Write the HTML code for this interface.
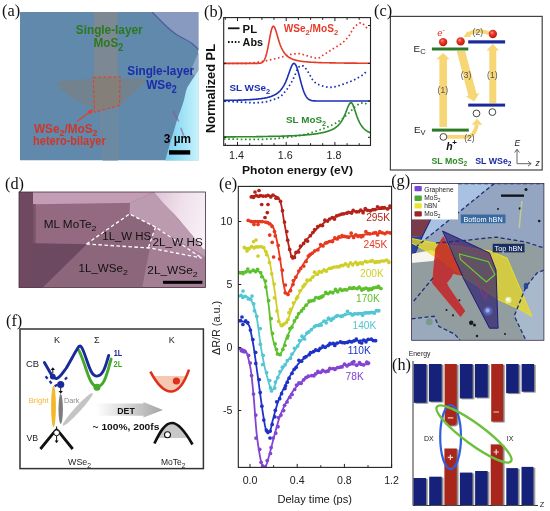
<!DOCTYPE html>
<html><head><meta charset="utf-8"><style>html,body{margin:0;padding:0;background:#fff;}svg{display:block;}</style></head>
<body><svg width="550" height="511" viewBox="0 0 550 511">
<rect width="550" height="511" fill="#fff"/>
<g id="pa">
<defs><clipPath id="ca"><rect x="20" y="12" width="178.5" height="148.5"/></clipPath><filter id="soft" x="-5%" y="-5%" width="110%" height="110%"><feGaussianBlur stdDeviation="0.7"/></filter><linearGradient id="gab" x1="0" y1="0" x2="1" y2="1"><stop offset="0" stop-color="#5f8cb1"/><stop offset="1" stop-color="#6a92b4"/></linearGradient><linearGradient id="gcy" x1="0" y1="0" x2="1" y2="0"><stop offset="0" stop-color="#78c8ea"/><stop offset="0.4" stop-color="#98e0f6"/><stop offset="1" stop-color="#dcf8fd"/></linearGradient></defs>
<g clip-path="url(#ca)">
<rect x="20" y="12" width="178.5" height="148.5" fill="#6089ab"/>
<g filter="url(#soft)">
<path d="M146,5 L152,12 C156,16 160,20 163,23 C167,27 172,32 178,35.5 C184,39 189,41 192,43.5 C195,46 197,48 199,50 L206,56 L206,5 Z" fill="#899ac0"/>
<path d="M152,12 C156,16 160,20 163,23 C167,27 172,32 178,35.5 C184,39 189,41 192,43.5 C195,46 197,48 199,50" fill="none" stroke="#4b5f9e" stroke-width="1.3"/>
<path d="M94,5 L117.5,5 L118,80 L118,167 L103,167 L100,108 L94,100 Z" fill="#7b8893"/>
<path d="M101,108 L117.5,105 L116.5,167 L104,167 Z" fill="#6b89a3"/>
<path d="M56.4,82.2 C62,80.5 67,80 72.7,79.7 L92.4,78.9 L147.5,78.5 C140,88 128,98 120.3,105.8 L92.4,106.7 C88,105.5 86,104.8 82.6,103.5 C79,102 76,100 72.7,97.7 C69,95 66,93.5 64.5,92 C61,89 58.5,85.5 56.4,82.2 Z" fill="#72828f"/>
<path d="M93.5,77.5 L119.5,77.2 L119.3,105 L94.6,112 Z" fill="#857f79"/>
<path d="M199,52 C196,58 193,64 191,72 L199,80 L206,80 L206,52 Z" fill="#8fa9c8"/>
<path d="M199,70 C196,74 194,77 192,80 C190,83 188,86 187,88 C185.5,92 185,96 184,100 C182,107 179,114 177,120 C175,127 173,134 171,140 C169,147 167,154 165,161 L163,167 L206,167 L206,66 Z" fill="url(#gcy)"/>
<path d="M172.4,111.5 C174,115 176,118 178,121.8 L179.5,121 C177.5,117 175.5,114 173.8,110.5 Z M180,128 L183,136 L184.5,135.5 L181.5,127.5 Z" fill="#8a5a8a" opacity="0.6"/>
</g>
</g>
<path d="M93.3,77.3 L120.1,76.9 L119.5,105.3 L94.6,112.2 Z" fill="none" stroke="#e0402a" stroke-width="1.1" stroke-dasharray="3,2"/>
<path d="M77,121.5 L91,111" stroke="#e0402a" stroke-width="1.2"/><path d="M93.5,109.3 L87.5,110.8 L90.6,114.6 Z" fill="#e0402a"/>
<text transform="translate(109.2,33.5) scale(1.0,1.14)" font-size="11.8" fill="#2a7820" font-weight="bold" text-anchor="middle" font-family="'Liberation Sans', Arial, sans-serif" >Single-layer</text>
<text transform="translate(108.4,47.1) scale(1.0,1.14)" font-size="11.8" fill="#2a7820" font-weight="bold" text-anchor="middle" font-family="'Liberation Sans', Arial, sans-serif" >MoS<tspan dy="3.5" font-size="8.9">2</tspan></text>
<text transform="translate(160.7,75.4) scale(1.0,1.14)" font-size="11.8" fill="#1c2ca8" font-weight="bold" text-anchor="middle" font-family="'Liberation Sans', Arial, sans-serif" >Single-layer</text>
<text transform="translate(161.5,89.1) scale(1.0,1.14)" font-size="11.8" fill="#1c2ca8" font-weight="bold" text-anchor="middle" font-family="'Liberation Sans', Arial, sans-serif" >WSe<tspan dy="3.5" font-size="8.9">2</tspan></text>
<text transform="translate(65.7,132.5) scale(1.0,1.12)" font-size="11.8" fill="#cf3628" font-weight="bold" text-anchor="middle" font-family="'Liberation Sans', Arial, sans-serif" >WSe<tspan dy="3.5" font-size="8.9">2</tspan><tspan dy="-3.5">/MoS</tspan><tspan dy="3.5" font-size="8.9">2</tspan></text>
<text transform="translate(69.4,144.5) scale(1.0,1.12)" font-size="11.0" fill="#cf3628" font-weight="bold" text-anchor="middle" font-family="'Liberation Sans', Arial, sans-serif" >hetero-bilayer</text>
<text transform="translate(177.4,143.3) scale(1.0,1.13)" font-size="11.8" fill="#000" font-weight="bold" text-anchor="middle" font-family="'Liberation Sans', Arial, sans-serif" >3 µm</text>
<rect x="169" y="150.2" width="21.2" height="4.4" fill="#000"/>
</g>
<text x="2" y="16.4" font-size="16.3" fill="#111" text-anchor="start" font-family="'Liberation Serif', 'Times New Roman', serif" >(a)</text>
<g id="pb">
<defs><clipPath id="cb"><rect x="223.7" y="17.6" width="146.8" height="127.80000000000001"/></clipPath></defs>
<g clip-path="url(#cb)" fill="none" stroke-linejoin="round">
<path d="M223.7,63.4 L224.2,63.4 L224.7,63.4 L225.2,63.4 L225.7,63.4 L226.2,63.4 L226.7,63.4 L227.2,63.4 L227.7,63.4 L228.2,63.4 L228.7,63.4 L229.2,63.4 L229.7,63.4 L230.2,63.4 L230.7,63.4 L231.2,63.4 L231.7,63.4 L232.2,63.4 L232.7,63.4 L233.2,63.4 L233.7,63.4 L234.2,63.4 L234.7,63.4 L235.2,63.4 L235.7,63.4 L236.2,63.4 L236.7,63.4 L237.2,63.4 L237.7,63.4 L238.2,63.4 L238.7,63.4 L239.2,63.4 L239.7,63.4 L240.2,63.4 L240.7,63.4 L241.2,63.4 L241.7,63.4 L242.2,63.4 L242.7,63.4 L243.2,63.4 L243.7,63.4 L244.2,63.4 L244.7,63.4 L245.2,63.4 L245.7,63.4 L246.2,63.4 L246.7,63.4 L247.2,63.4 L247.7,63.4 L248.2,63.4 L248.7,63.4 L249.2,63.4 L249.7,63.4 L250.2,63.4 L250.7,63.4 L251.2,63.4 L251.7,63.4 L252.2,63.4 L252.7,63.4 L253.2,63.4 L253.7,63.4 L254.2,63.4 L254.7,63.4 L255.2,63.4 L255.7,63.4 L256.2,63.4 L256.7,63.4 L257.2,63.4 L257.7,63.4 L258.2,63.4 L258.7,63.3 L259.2,63.3 L259.7,63.2 L260.2,63.2 L260.7,63.1 L261.2,62.9 L261.7,62.7 L262.2,62.4 L262.7,62.1 L263.2,61.6 L263.7,61.0 L264.2,60.2 L264.7,59.3 L265.2,58.1 L265.7,56.7 L266.2,55.1 L266.7,53.2 L267.2,51.1 L267.7,48.8 L268.2,46.2 L268.7,43.6 L269.2,40.8 L269.7,38.1 L270.2,35.4 L270.7,33.0 L271.2,30.8 L271.7,28.9 L272.2,27.5 L272.7,26.6 L273.2,26.2 L273.7,26.3 L274.2,26.8 L274.7,27.7 L275.2,28.8 L275.7,30.2 L276.2,31.8 L276.7,33.5 L277.2,35.2 L277.7,37.0 L278.2,38.7 L278.7,40.3 L279.2,41.9 L279.7,43.4 L280.2,44.8 L280.7,46.1 L281.2,47.3 L281.7,48.4 L282.2,49.4 L282.7,50.4 L283.2,51.2 L283.7,52.0 L284.2,52.8 L284.7,53.4 L285.2,54.0 L285.7,54.6 L286.2,55.1 L286.7,55.6 L287.2,56.0 L287.7,56.5 L288.2,56.8 L288.7,57.2 L289.2,57.5 L289.7,57.8 L290.2,58.1 L290.7,58.3 L291.2,58.6 L291.7,58.8 L292.2,59.0 L292.7,59.2 L293.2,59.4 L293.7,59.6 L294.2,59.7 L294.7,59.9 L295.2,60.0 L295.7,60.2 L296.2,60.3 L296.7,60.4 L297.2,60.5 L297.7,60.6 L298.2,60.7 L298.7,60.8 L299.2,60.9 L299.7,61.0 L300.2,61.1 L300.7,61.2 L301.2,61.3 L301.7,61.3 L302.2,61.4 L302.7,61.5 L303.2,61.5 L303.7,61.6 L304.2,61.6 L304.7,61.7 L305.2,61.7 L305.7,61.8 L306.2,61.8 L306.7,61.9 L307.2,61.9 L307.7,62.0 L308.2,62.0 L308.7,62.0 L309.2,62.1 L309.7,62.1 L310.2,62.1 L310.7,62.2 L311.2,62.2 L311.7,62.2 L312.2,62.3 L312.7,62.3 L313.2,62.3 L313.7,62.3 L314.2,62.4 L314.7,62.4 L315.2,62.4 L315.7,62.4 L316.2,62.5 L316.7,62.5 L317.2,62.5 L317.7,62.5 L318.2,62.5 L318.7,62.6 L319.2,62.6 L319.7,62.6 L320.2,62.6 L320.7,62.6 L321.2,62.6 L321.7,62.7 L322.2,62.7 L322.7,62.7 L323.2,62.7 L323.7,62.7 L324.2,62.7 L324.7,62.7 L325.2,62.8 L325.7,62.8 L326.2,62.8 L326.7,62.8 L327.2,62.8 L327.7,62.8 L328.2,62.8 L328.7,62.8 L329.2,62.8 L329.7,62.9 L330.2,62.9 L330.7,62.9 L331.2,62.9 L331.7,62.9 L332.2,62.9 L332.7,62.9 L333.2,62.9 L333.7,62.9 L334.2,62.9 L334.7,62.9 L335.2,62.9 L335.7,63.0 L336.2,63.0 L336.7,63.0 L337.2,63.0 L337.7,63.0 L338.2,63.0 L338.7,63.0 L339.2,63.0 L339.7,63.0 L340.2,63.0 L340.7,63.0 L341.2,63.0 L341.7,63.0 L342.2,63.0 L342.7,63.0 L343.2,63.0 L343.7,63.0 L344.2,63.1 L344.7,63.1 L345.2,63.1 L345.7,63.1 L346.2,63.1 L346.7,63.1 L347.2,63.1 L347.7,63.1 L348.2,63.1 L348.7,63.1 L349.2,63.1 L349.7,63.1 L350.2,63.1 L350.7,63.1 L351.2,63.1 L351.7,63.1 L352.2,63.1 L352.7,63.1 L353.2,63.1 L353.7,63.1 L354.2,63.1 L354.7,63.1 L355.2,63.1 L355.7,63.1 L356.2,63.1 L356.7,63.1 L357.2,63.2 L357.7,63.2 L358.2,63.2 L358.7,63.2 L359.2,63.2 L359.7,63.2 L360.2,63.2 L360.7,63.2 L361.2,63.2 L361.7,63.2 L362.2,63.2 L362.7,63.2 L363.2,63.2 L363.7,63.2 L364.2,63.2 L364.7,63.2 L365.2,63.2 L365.7,63.2 L366.2,63.2 L366.7,63.2 L367.2,63.2 L367.7,63.2 L368.2,63.2 L368.7,63.2 L369.2,63.2 L369.7,63.2 L370.2,63.2 L370.7,63.2" stroke="#e63b2a" stroke-width="1.6"/>
<path d="M224.0,63.5 L224.5,63.5 L225.0,63.5 L225.5,63.5 L226.0,63.5 L226.5,63.5 L227.0,63.5 L227.5,63.5 L228.0,63.5 L228.5,63.5 L229.0,63.5 L229.5,63.5 L230.0,63.5 L230.5,63.5 L231.0,63.5 L231.5,63.5 L232.0,63.5 L232.5,63.5 L233.0,63.5 L233.5,63.5 L234.0,63.5 L234.5,63.5 L235.0,63.5 L235.5,63.5 L236.0,63.5 L236.5,63.4 L237.0,63.4 L237.5,63.4 L238.0,63.4 L238.5,63.4 L239.0,63.4 L239.5,63.4 L240.0,63.4 L240.5,63.4 L241.0,63.4 L241.5,63.4 L242.0,63.4 L242.5,63.4 L243.0,63.4 L243.5,63.4 L244.0,63.4 L244.5,63.4 L245.0,63.3 L245.5,63.3 L246.0,63.3 L246.5,63.3 L247.0,63.3 L247.5,63.3 L248.0,63.3 L248.5,63.3 L249.0,63.3 L249.5,63.2 L250.0,63.2 L250.5,63.2 L251.0,63.1 L251.5,63.1 L252.0,63.0 L252.5,63.0 L253.0,62.9 L253.5,62.9 L254.0,62.8 L254.5,62.7 L255.0,62.7 L255.5,62.6 L256.0,62.5 L256.5,62.4 L257.0,62.3 L257.5,62.3 L258.0,62.2 L258.5,62.1 L259.0,62.0 L259.5,61.9 L260.0,61.8 L260.5,61.7 L261.0,61.7 L261.5,61.6 L262.0,61.5 L262.5,61.4 L263.0,61.3 L263.5,61.2 L264.0,61.2 L264.5,61.1 L265.0,61.0 L265.5,60.9 L266.0,60.8 L266.5,60.7 L267.0,60.6 L267.5,60.5 L268.0,60.4 L268.5,60.3 L269.0,60.1 L269.5,60.0 L270.0,59.9 L270.5,59.8 L271.0,59.7 L271.5,59.6 L272.0,59.5 L272.5,59.3 L273.0,59.2 L273.5,59.1 L274.0,59.0 L274.5,58.9 L275.0,58.7 L275.5,58.6 L276.0,58.5 L276.5,58.4 L277.0,58.2 L277.5,58.1 L278.0,58.0 L278.5,57.9 L279.0,57.7 L279.5,57.6 L280.0,57.5 L280.5,57.4 L281.0,57.2 L281.5,57.1 L282.0,56.9 L282.5,56.8 L283.0,56.6 L283.5,56.5 L284.0,56.3 L284.5,56.2 L285.0,56.0 L285.5,55.8 L286.0,55.7 L286.5,55.5 L287.0,55.4 L287.5,55.2 L288.0,55.1 L288.5,54.9 L289.0,54.8 L289.5,54.7 L290.0,54.5 L290.5,54.4 L291.0,54.4 L291.5,54.3 L292.0,54.2 L292.5,54.1 L293.0,54.1 L293.5,54.0 L294.0,54.0 L294.5,53.9 L295.0,53.8 L295.5,53.8 L296.0,53.7 L296.5,53.7 L297.0,53.7 L297.5,53.6 L298.0,53.6 L298.5,53.6 L299.0,53.6 L299.5,53.6 L300.0,53.7 L300.5,53.8 L301.0,53.9 L301.5,54.0 L302.0,54.2 L302.5,54.3 L303.0,54.5 L303.5,54.7 L304.0,54.9 L304.5,55.0 L305.0,55.2 L305.5,55.4 L306.0,55.5 L306.5,55.6 L307.0,55.8 L307.5,55.9 L308.0,56.1 L308.5,56.2 L309.0,56.4 L309.5,56.5 L310.0,56.7 L310.5,56.8 L311.0,57.0 L311.5,57.1 L312.0,57.3 L312.5,57.4 L313.0,57.5 L313.5,57.6 L314.0,57.8 L314.5,57.9 L315.0,58.0 L315.5,58.0 L316.0,58.1 L316.5,58.1 L317.0,58.2 L317.5,58.2 L318.0,58.2 L318.5,58.1 L319.0,57.9 L319.5,57.7 L320.0,57.4 L320.5,57.1 L321.0,56.7 L321.5,56.3 L322.0,55.9 L322.5,55.6 L323.0,55.2 L323.5,54.8 L324.0,54.5 L324.5,54.2 L325.0,53.9 L325.5,53.6 L326.0,53.3 L326.5,53.0 L327.0,52.6 L327.5,52.3 L328.0,52.0 L328.5,51.7 L329.0,51.4 L329.5,51.1 L330.0,50.7 L330.5,50.4 L331.0,50.1 L331.5,49.8 L332.0,49.5 L332.5,49.1 L333.0,48.8 L333.5,48.5 L334.0,48.2 L334.5,47.9 L335.0,47.6 L335.5,47.3 L336.0,47.0 L336.5,46.7 L337.0,46.4 L337.5,46.1 L338.0,45.9 L338.5,45.6 L339.0,45.2 L339.5,44.9 L340.0,44.6 L340.5,44.3 L341.0,43.9 L341.5,43.5 L342.0,43.1 L342.5,42.7 L343.0,42.3 L343.5,41.8 L344.0,41.4 L344.5,40.9 L345.0,40.4 L345.5,39.9 L346.0,39.4 L346.5,38.8 L347.0,38.3 L347.5,37.7 L348.0,37.1 L348.5,36.5 L349.0,35.9 L349.5,35.1 L350.0,34.3 L350.5,33.5 L351.0,32.6 L351.5,31.6 L352.0,30.7 L352.5,29.8 L353.0,29.0 L353.5,28.2 L354.0,27.5 L354.5,26.9 L355.0,26.4 L355.5,26.0 L356.0,25.6 L356.5,25.1 L357.0,24.7 L357.5,24.4 L358.0,24.0 L358.5,23.7 L359.0,23.4 L359.5,23.1 L360.0,23.0 L360.5,22.8 L361.0,22.7 L361.5,22.7 L362.0,22.9 L362.5,23.2 L363.0,23.7 L363.5,24.3 L364.0,25.0 L364.5,25.7 L365.0,26.3 L365.5,26.9 L366.0,27.3 L366.5,27.6 L367.0,28.0 L367.5,28.3" stroke="#e63b2a" stroke-width="1.7" stroke-dasharray="1.6,2.6"/>
<path d="M223.7,100.5 L224.2,100.5 L224.7,100.4 L225.2,100.4 L225.7,100.4 L226.2,100.4 L226.7,100.4 L227.2,100.4 L227.7,100.4 L228.2,100.4 L228.7,100.4 L229.2,100.4 L229.7,100.4 L230.2,100.3 L230.7,100.3 L231.2,100.3 L231.7,100.3 L232.2,100.3 L232.7,100.3 L233.2,100.3 L233.7,100.3 L234.2,100.3 L234.7,100.2 L235.2,100.2 L235.7,100.2 L236.2,100.2 L236.7,100.2 L237.2,100.2 L237.7,100.2 L238.2,100.1 L238.7,100.1 L239.2,100.1 L239.7,100.1 L240.2,100.1 L240.7,100.1 L241.2,100.1 L241.7,100.0 L242.2,100.0 L242.7,100.0 L243.2,100.0 L243.7,100.0 L244.2,99.9 L244.7,99.9 L245.2,99.9 L245.7,99.9 L246.2,99.8 L246.7,99.8 L247.2,99.8 L247.7,99.8 L248.2,99.7 L248.7,99.7 L249.2,99.7 L249.7,99.7 L250.2,99.6 L250.7,99.6 L251.2,99.6 L251.7,99.5 L252.2,99.5 L252.7,99.5 L253.2,99.4 L253.7,99.4 L254.2,99.4 L254.7,99.3 L255.2,99.3 L255.7,99.2 L256.2,99.2 L256.7,99.1 L257.2,99.1 L257.7,99.0 L258.2,99.0 L258.7,98.9 L259.2,98.9 L259.7,98.8 L260.2,98.8 L260.7,98.7 L261.2,98.6 L261.7,98.6 L262.2,98.5 L262.7,98.4 L263.2,98.3 L263.7,98.3 L264.2,98.2 L264.7,98.1 L265.2,98.0 L265.7,97.9 L266.2,97.8 L266.7,97.7 L267.2,97.6 L267.7,97.4 L268.2,97.3 L268.7,97.2 L269.2,97.0 L269.7,96.9 L270.2,96.7 L270.7,96.6 L271.2,96.4 L271.7,96.2 L272.2,96.0 L272.7,95.8 L273.2,95.6 L273.7,95.4 L274.2,95.1 L274.7,94.9 L275.2,94.6 L275.7,94.3 L276.2,94.0 L276.7,93.7 L277.2,93.3 L277.7,93.0 L278.2,92.6 L278.7,92.1 L279.2,91.7 L279.7,91.2 L280.2,90.7 L280.7,90.1 L281.2,89.5 L281.7,88.8 L282.2,88.2 L282.7,87.4 L283.2,86.6 L283.7,85.8 L284.2,84.9 L284.7,83.9 L285.2,82.9 L285.7,81.8 L286.2,80.6 L286.7,79.4 L287.2,78.1 L287.7,76.7 L288.2,75.3 L288.7,73.9 L289.2,72.5 L289.7,71.1 L290.2,69.7 L290.7,68.3 L291.2,67.1 L291.7,66.0 L292.2,65.0 L292.7,64.3 L293.2,63.7 L293.7,63.4 L294.2,63.4 L294.7,63.7 L295.2,64.2 L295.7,64.9 L296.2,65.9 L296.7,67.1 L297.2,68.5 L297.7,70.1 L298.2,71.8 L298.7,73.6 L299.2,75.5 L299.7,77.4 L300.2,79.4 L300.7,81.3 L301.2,83.1 L301.7,85.0 L302.2,86.7 L302.7,88.3 L303.2,89.9 L303.7,91.3 L304.2,92.6 L304.7,93.7 L305.2,94.8 L305.7,95.7 L306.2,96.6 L306.7,97.3 L307.2,97.9 L307.7,98.5 L308.2,98.9 L308.7,99.3 L309.2,99.6 L309.7,99.9 L310.2,100.1 L310.7,100.3 L311.2,100.5 L311.7,100.6 L312.2,100.7 L312.7,100.8 L313.2,100.8 L313.7,100.9 L314.2,100.9 L314.7,100.9 L315.2,100.9 L315.7,101.0 L316.2,101.0 L316.7,101.0 L317.2,101.0 L317.7,101.0 L318.2,101.0 L318.7,101.0 L319.2,101.0 L319.7,101.0 L320.2,101.0 L320.7,101.0 L321.2,101.0 L321.7,101.0 L322.2,101.0 L322.7,101.0 L323.2,101.0 L323.7,101.0 L324.2,101.0 L324.7,101.0 L325.2,101.0 L325.7,101.0 L326.2,101.0 L326.7,101.0 L327.2,101.0 L327.7,101.0 L328.2,101.0 L328.7,101.0 L329.2,101.0 L329.7,101.0 L330.2,101.0 L330.7,101.0 L331.2,101.0 L331.7,101.0 L332.2,101.0 L332.7,101.0 L333.2,101.0 L333.7,101.0 L334.2,101.0 L334.7,101.0 L335.2,101.0 L335.7,101.0 L336.2,101.0 L336.7,101.0 L337.2,101.0 L337.7,101.0 L338.2,101.0 L338.7,101.0 L339.2,101.0 L339.7,101.0 L340.2,101.0 L340.7,101.0 L341.2,101.0 L341.7,101.0 L342.2,101.0 L342.7,101.0 L343.2,101.0 L343.7,101.0 L344.2,101.0 L344.7,101.0 L345.2,101.0 L345.7,101.0 L346.2,101.0 L346.7,101.0 L347.2,101.0 L347.7,101.0 L348.2,101.0 L348.7,101.0 L349.2,101.0 L349.7,101.0 L350.2,101.0 L350.7,101.0 L351.2,101.0 L351.7,101.0 L352.2,101.0 L352.7,101.0 L353.2,101.0 L353.7,101.0 L354.2,101.0 L354.7,101.0 L355.2,101.0 L355.7,101.0 L356.2,101.0 L356.7,101.0 L357.2,101.0 L357.7,101.0 L358.2,101.0 L358.7,101.0 L359.2,101.0 L359.7,101.0 L360.2,101.0 L360.7,101.0 L361.2,101.0 L361.7,101.0 L362.2,101.0 L362.7,101.0 L363.2,101.0 L363.7,101.0 L364.2,101.0 L364.7,101.0 L365.2,101.0 L365.7,101.0 L366.2,101.0 L366.7,101.0 L367.2,101.0 L367.7,101.0 L368.2,101.0 L368.7,101.0 L369.2,101.0 L369.7,101.0 L370.2,101.0 L370.7,101.0" stroke="#1b2fb5" stroke-width="1.6"/>
<path d="M224.0,101.2 L224.5,101.2 L225.0,101.2 L225.5,101.3 L226.0,101.3 L226.5,101.3 L227.0,101.3 L227.5,101.4 L228.0,101.4 L228.5,101.4 L229.0,101.4 L229.5,101.5 L230.0,101.5 L230.5,101.5 L231.0,101.5 L231.5,101.6 L232.0,101.6 L232.5,101.6 L233.0,101.6 L233.5,101.7 L234.0,101.7 L234.5,101.7 L235.0,101.7 L235.5,101.8 L236.0,101.8 L236.5,101.8 L237.0,101.8 L237.5,101.9 L238.0,101.9 L238.5,101.9 L239.0,101.9 L239.5,102.0 L240.0,102.0 L240.5,102.0 L241.0,102.1 L241.5,102.1 L242.0,102.1 L242.5,102.1 L243.0,102.2 L243.5,102.2 L244.0,102.3 L244.5,102.3 L245.0,102.3 L245.5,102.4 L246.0,102.4 L246.5,102.4 L247.0,102.5 L247.5,102.5 L248.0,102.5 L248.5,102.6 L249.0,102.6 L249.5,102.6 L250.0,102.6 L250.5,102.7 L251.0,102.7 L251.5,102.7 L252.0,102.7 L252.5,102.8 L253.0,102.8 L253.5,102.8 L254.0,102.8 L254.5,102.8 L255.0,102.8 L255.5,102.8 L256.0,102.8 L256.5,102.8 L257.0,102.8 L257.5,102.7 L258.0,102.7 L258.5,102.7 L259.0,102.6 L259.5,102.6 L260.0,102.6 L260.5,102.5 L261.0,102.5 L261.5,102.4 L262.0,102.4 L262.5,102.3 L263.0,102.2 L263.5,102.2 L264.0,102.1 L264.5,102.1 L265.0,102.0 L265.5,101.9 L266.0,101.8 L266.5,101.7 L267.0,101.6 L267.5,101.5 L268.0,101.3 L268.5,101.2 L269.0,101.0 L269.5,100.8 L270.0,100.7 L270.5,100.5 L271.0,100.3 L271.5,100.2 L272.0,100.0 L272.5,99.8 L273.0,99.7 L273.5,99.5 L274.0,99.4 L274.5,99.2 L275.0,99.0 L275.5,98.9 L276.0,98.7 L276.5,98.5 L277.0,98.3 L277.5,98.1 L278.0,97.9 L278.5,97.7 L279.0,97.4 L279.5,97.2 L280.0,96.9 L280.5,96.5 L281.0,96.1 L281.5,95.7 L282.0,95.2 L282.5,94.7 L283.0,94.2 L283.5,93.6 L284.0,93.0 L284.5,92.4 L285.0,91.8 L285.5,91.2 L286.0,90.6 L286.5,89.9 L287.0,89.2 L287.5,88.5 L288.0,87.7 L288.5,87.0 L289.0,86.2 L289.5,85.5 L290.0,84.7 L290.5,83.9 L291.0,83.1 L291.5,82.2 L292.0,81.3 L292.5,80.4 L293.0,79.4 L293.5,78.3 L294.0,77.2 L294.5,76.1 L295.0,75.0 L295.5,73.8 L296.0,72.6 L296.5,71.3 L297.0,70.0 L297.5,68.9 L298.0,68.0 L298.5,67.4 L299.0,66.9 L299.5,66.4 L300.0,66.0 L300.5,65.7 L301.0,65.6 L301.5,65.6 L302.0,65.7 L302.5,65.8 L303.0,65.9 L303.5,66.1 L304.0,66.4 L304.5,66.9 L305.0,67.5 L305.5,68.2 L306.0,68.9 L306.5,69.7 L307.0,70.4 L307.5,71.1 L308.0,71.9 L308.5,72.7 L309.0,73.6 L309.5,74.5 L310.0,75.3 L310.5,76.2 L311.0,77.1 L311.5,78.0 L312.0,78.9 L312.5,79.7 L313.0,80.4 L313.5,81.0 L314.0,81.5 L314.5,82.0 L315.0,82.5 L315.5,82.9 L316.0,83.3 L316.5,83.6 L317.0,83.9 L317.5,84.1 L318.0,84.3 L318.5,84.5 L319.0,84.8 L319.5,85.0 L320.0,85.1 L320.5,85.3 L321.0,85.5 L321.5,85.7 L322.0,85.9 L322.5,86.0 L323.0,86.2 L323.5,86.3 L324.0,86.5 L324.5,86.6 L325.0,86.7 L325.5,86.8 L326.0,86.9 L326.5,87.0 L327.0,87.1 L327.5,87.1 L328.0,87.2 L328.5,87.2 L329.0,87.3 L329.5,87.3 L330.0,87.3 L330.5,87.3 L331.0,87.3 L331.5,87.2 L332.0,87.2 L332.5,87.1 L333.0,87.1 L333.5,87.0 L334.0,86.9 L334.5,86.8 L335.0,86.7 L335.5,86.6 L336.0,86.5 L336.5,86.4 L337.0,86.2 L337.5,86.1 L338.0,86.0 L338.5,85.8 L339.0,85.6 L339.5,85.5 L340.0,85.3 L340.5,85.1 L341.0,85.0 L341.5,84.8 L342.0,84.6 L342.5,84.4 L343.0,84.3 L343.5,84.1 L344.0,83.9 L344.5,83.7 L345.0,83.5 L345.5,83.3 L346.0,83.2 L346.5,83.0 L347.0,82.8 L347.5,82.6 L348.0,82.5 L348.5,82.3 L349.0,82.1 L349.5,81.9 L350.0,81.7 L350.5,81.5 L351.0,81.3 L351.5,81.1 L352.0,80.9 L352.5,80.6 L353.0,80.4 L353.5,80.2 L354.0,79.9 L354.5,79.7 L355.0,79.4 L355.5,79.2 L356.0,78.9 L356.5,78.7 L357.0,78.4 L357.5,78.1 L358.0,77.8 L358.5,77.5 L359.0,77.3 L359.5,77.0 L360.0,76.7 L360.5,76.3 L361.0,76.0 L361.5,75.7 L362.0,75.4 L362.5,75.0 L363.0,74.6 L363.5,74.2 L364.0,73.8 L364.5,73.4 L365.0,72.9 L365.5,72.5 L366.0,72.0 L366.5,71.5 L367.0,71.0 L367.5,70.5" stroke="#1b2fb5" stroke-width="1.7" stroke-dasharray="1.6,2.6"/>
<path d="M223.7,136.9 L224.2,136.9 L224.7,136.9 L225.2,136.9 L225.7,136.9 L226.2,136.9 L226.7,136.9 L227.2,136.9 L227.7,136.9 L228.2,136.9 L228.7,136.9 L229.2,136.9 L229.7,136.9 L230.2,136.9 L230.7,136.9 L231.2,136.9 L231.7,136.9 L232.2,136.9 L232.7,136.9 L233.2,136.9 L233.7,136.9 L234.2,136.9 L234.7,136.9 L235.2,136.9 L235.7,136.8 L236.2,136.8 L236.7,136.8 L237.2,136.8 L237.7,136.8 L238.2,136.8 L238.7,136.8 L239.2,136.8 L239.7,136.8 L240.2,136.8 L240.7,136.8 L241.2,136.8 L241.7,136.8 L242.2,136.8 L242.7,136.8 L243.2,136.8 L243.7,136.8 L244.2,136.8 L244.7,136.8 L245.2,136.8 L245.7,136.8 L246.2,136.8 L246.7,136.8 L247.2,136.7 L247.7,136.7 L248.2,136.7 L248.7,136.7 L249.2,136.7 L249.7,136.7 L250.2,136.7 L250.7,136.7 L251.2,136.7 L251.7,136.7 L252.2,136.7 L252.7,136.7 L253.2,136.7 L253.7,136.7 L254.2,136.7 L254.7,136.7 L255.2,136.7 L255.7,136.7 L256.2,136.6 L256.7,136.6 L257.2,136.6 L257.7,136.6 L258.2,136.6 L258.7,136.6 L259.2,136.6 L259.7,136.6 L260.2,136.6 L260.7,136.6 L261.2,136.6 L261.7,136.6 L262.2,136.6 L262.7,136.6 L263.2,136.5 L263.7,136.5 L264.2,136.5 L264.7,136.5 L265.2,136.5 L265.7,136.5 L266.2,136.5 L266.7,136.5 L267.2,136.5 L267.7,136.5 L268.2,136.5 L268.7,136.4 L269.2,136.4 L269.7,136.4 L270.2,136.4 L270.7,136.4 L271.2,136.4 L271.7,136.4 L272.2,136.4 L272.7,136.4 L273.2,136.4 L273.7,136.3 L274.2,136.3 L274.7,136.3 L275.2,136.3 L275.7,136.3 L276.2,136.3 L276.7,136.3 L277.2,136.3 L277.7,136.3 L278.2,136.2 L278.7,136.2 L279.2,136.2 L279.7,136.2 L280.2,136.2 L280.7,136.2 L281.2,136.2 L281.7,136.1 L282.2,136.1 L282.7,136.1 L283.2,136.1 L283.7,136.1 L284.2,136.1 L284.7,136.0 L285.2,136.0 L285.7,136.0 L286.2,136.0 L286.7,136.0 L287.2,136.0 L287.7,135.9 L288.2,135.9 L288.7,135.9 L289.2,135.9 L289.7,135.9 L290.2,135.8 L290.7,135.8 L291.2,135.8 L291.7,135.8 L292.2,135.8 L292.7,135.7 L293.2,135.7 L293.7,135.7 L294.2,135.7 L294.7,135.6 L295.2,135.6 L295.7,135.6 L296.2,135.6 L296.7,135.5 L297.2,135.5 L297.7,135.5 L298.2,135.5 L298.7,135.4 L299.2,135.4 L299.7,135.4 L300.2,135.3 L300.7,135.3 L301.2,135.3 L301.7,135.2 L302.2,135.2 L302.7,135.2 L303.2,135.1 L303.7,135.1 L304.2,135.1 L304.7,135.0 L305.2,135.0 L305.7,134.9 L306.2,134.9 L306.7,134.8 L307.2,134.8 L307.7,134.8 L308.2,134.7 L308.7,134.7 L309.2,134.6 L309.7,134.6 L310.2,134.5 L310.7,134.5 L311.2,134.4 L311.7,134.4 L312.2,134.3 L312.7,134.2 L313.2,134.2 L313.7,134.1 L314.2,134.1 L314.7,134.0 L315.2,133.9 L315.7,133.9 L316.2,133.8 L316.7,133.7 L317.2,133.6 L317.7,133.6 L318.2,133.5 L318.7,133.4 L319.2,133.3 L319.7,133.2 L320.2,133.1 L320.7,133.0 L321.2,132.9 L321.7,132.8 L322.2,132.7 L322.7,132.6 L323.2,132.5 L323.7,132.4 L324.2,132.3 L324.7,132.2 L325.2,132.0 L325.7,131.9 L326.2,131.8 L326.7,131.6 L327.2,131.5 L327.7,131.3 L328.2,131.1 L328.7,131.0 L329.2,130.8 L329.7,130.6 L330.2,130.4 L330.7,130.2 L331.2,130.0 L331.7,129.8 L332.2,129.5 L332.7,129.3 L333.2,129.0 L333.7,128.8 L334.2,128.5 L334.7,128.2 L335.2,127.8 L335.7,127.5 L336.2,127.1 L336.7,126.7 L337.2,126.3 L337.7,125.9 L338.2,125.4 L338.7,124.9 L339.2,124.3 L339.7,123.8 L340.2,123.1 L340.7,122.5 L341.2,121.7 L341.7,121.0 L342.2,120.1 L342.7,119.3 L343.2,118.3 L343.7,117.3 L344.2,116.2 L344.7,115.1 L345.2,113.9 L345.7,112.7 L346.2,111.4 L346.7,110.1 L347.2,108.8 L347.7,107.5 L348.2,106.3 L348.7,105.3 L349.2,104.3 L349.7,103.6 L350.2,103.0 L350.7,102.7 L351.2,102.7 L351.7,103.0 L352.2,103.6 L352.7,104.5 L353.2,105.6 L353.7,106.9 L354.2,108.3 L354.7,109.7 L355.2,111.3 L355.7,112.8 L356.2,114.3 L356.7,115.7 L357.2,117.1 L357.7,118.4 L358.2,119.6 L358.7,120.7 L359.2,121.8 L359.7,122.8 L360.2,123.7 L360.7,124.6 L361.2,125.3 L361.7,126.1 L362.2,126.7 L362.7,127.4 L363.2,127.9 L363.7,128.5 L364.2,129.0 L364.7,129.4 L365.2,129.8 L365.7,130.2 L366.2,130.6 L366.7,130.9 L367.2,131.2 L367.7,131.5 L368.2,131.8 L368.7,132.1 L369.2,132.3 L369.7,132.5 L370.2,132.7 L370.7,132.9" stroke="#2b8a2b" stroke-width="1.6"/>
<path d="M224.0,139.0 L224.5,139.0 L225.0,139.0 L225.5,139.0 L226.0,139.0 L226.5,139.1 L227.0,139.1 L227.5,139.1 L228.0,139.1 L228.5,139.1 L229.0,139.1 L229.5,139.1 L230.0,139.1 L230.5,139.1 L231.0,139.1 L231.5,139.2 L232.0,139.2 L232.5,139.2 L233.0,139.2 L233.5,139.2 L234.0,139.2 L234.5,139.2 L235.0,139.2 L235.5,139.2 L236.0,139.2 L236.5,139.2 L237.0,139.2 L237.5,139.2 L238.0,139.2 L238.5,139.2 L239.0,139.2 L239.5,139.2 L240.0,139.2 L240.5,139.3 L241.0,139.3 L241.5,139.3 L242.0,139.3 L242.5,139.3 L243.0,139.3 L243.5,139.3 L244.0,139.3 L244.5,139.3 L245.0,139.3 L245.5,139.3 L246.0,139.3 L246.5,139.3 L247.0,139.3 L247.5,139.3 L248.0,139.3 L248.5,139.3 L249.0,139.3 L249.5,139.3 L250.0,139.3 L250.5,139.3 L251.0,139.3 L251.5,139.3 L252.0,139.3 L252.5,139.3 L253.0,139.3 L253.5,139.3 L254.0,139.3 L254.5,139.3 L255.0,139.3 L255.5,139.3 L256.0,139.3 L256.5,139.3 L257.0,139.3 L257.5,139.3 L258.0,139.3 L258.5,139.3 L259.0,139.3 L259.5,139.3 L260.0,139.3 L260.5,139.3 L261.0,139.3 L261.5,139.3 L262.0,139.3 L262.5,139.3 L263.0,139.3 L263.5,139.3 L264.0,139.2 L264.5,139.2 L265.0,139.2 L265.5,139.2 L266.0,139.2 L266.5,139.2 L267.0,139.1 L267.5,139.1 L268.0,139.1 L268.5,139.1 L269.0,139.0 L269.5,139.0 L270.0,139.0 L270.5,139.0 L271.0,138.9 L271.5,138.9 L272.0,138.9 L272.5,138.8 L273.0,138.8 L273.5,138.7 L274.0,138.7 L274.5,138.7 L275.0,138.6 L275.5,138.6 L276.0,138.5 L276.5,138.5 L277.0,138.5 L277.5,138.4 L278.0,138.4 L278.5,138.3 L279.0,138.3 L279.5,138.2 L280.0,138.2 L280.5,138.1 L281.0,138.0 L281.5,138.0 L282.0,137.9 L282.5,137.9 L283.0,137.8 L283.5,137.8 L284.0,137.7 L284.5,137.6 L285.0,137.6 L285.5,137.5 L286.0,137.5 L286.5,137.4 L287.0,137.3 L287.5,137.3 L288.0,137.2 L288.5,137.1 L289.0,137.1 L289.5,137.0 L290.0,136.9 L290.5,136.9 L291.0,136.8 L291.5,136.7 L292.0,136.7 L292.5,136.6 L293.0,136.5 L293.5,136.5 L294.0,136.4 L294.5,136.3 L295.0,136.2 L295.5,136.2 L296.0,136.1 L296.5,136.0 L297.0,135.9 L297.5,135.9 L298.0,135.8 L298.5,135.7 L299.0,135.7 L299.5,135.6 L300.0,135.5 L300.5,135.4 L301.0,135.3 L301.5,135.2 L302.0,135.2 L302.5,135.1 L303.0,135.0 L303.5,134.8 L304.0,134.7 L304.5,134.6 L305.0,134.5 L305.5,134.4 L306.0,134.2 L306.5,134.1 L307.0,134.0 L307.5,133.8 L308.0,133.7 L308.5,133.6 L309.0,133.4 L309.5,133.3 L310.0,133.1 L310.5,133.0 L311.0,132.8 L311.5,132.6 L312.0,132.5 L312.5,132.3 L313.0,132.2 L313.5,132.0 L314.0,131.8 L314.5,131.7 L315.0,131.5 L315.5,131.3 L316.0,131.2 L316.5,131.0 L317.0,130.8 L317.5,130.7 L318.0,130.5 L318.5,130.3 L319.0,130.2 L319.5,130.0 L320.0,129.8 L320.5,129.6 L321.0,129.5 L321.5,129.3 L322.0,129.1 L322.5,128.9 L323.0,128.7 L323.5,128.6 L324.0,128.4 L324.5,128.2 L325.0,128.0 L325.5,127.8 L326.0,127.6 L326.5,127.4 L327.0,127.2 L327.5,127.0 L328.0,126.8 L328.5,126.6 L329.0,126.3 L329.5,126.1 L330.0,125.9 L330.5,125.7 L331.0,125.4 L331.5,125.2 L332.0,125.0 L332.5,124.7 L333.0,124.5 L333.5,124.2 L334.0,124.0 L334.5,123.7 L335.0,123.5 L335.5,123.2 L336.0,122.9 L336.5,122.6 L337.0,122.4 L337.5,122.1 L338.0,121.7 L338.5,121.4 L339.0,121.1 L339.5,120.7 L340.0,120.4 L340.5,120.0 L341.0,119.6 L341.5,119.2 L342.0,118.9 L342.5,118.5 L343.0,118.1 L343.5,117.6 L344.0,117.2 L344.5,116.8 L345.0,116.4 L345.5,116.0 L346.0,115.6 L346.5,115.2 L347.0,114.7 L347.5,114.3 L348.0,113.9 L348.5,113.4 L349.0,112.9 L349.5,112.4 L350.0,111.9 L350.5,111.4 L351.0,110.9 L351.5,110.3 L352.0,109.8 L352.5,109.3 L353.0,108.7 L353.5,108.2 L354.0,107.7 L354.5,107.2 L355.0,106.8 L355.5,106.3 L356.0,105.9 L356.5,105.5 L357.0,105.2 L357.5,104.9 L358.0,104.6 L358.5,104.4 L359.0,104.1 L359.5,103.9 L360.0,103.7 L360.5,103.4 L361.0,103.2 L361.5,103.1 L362.0,102.9 L362.5,102.8 L363.0,102.7 L363.5,102.7 L364.0,102.7 L364.5,102.9 L365.0,103.1 L365.5,103.4 L366.0,103.8 L366.5,104.3 L367.0,104.8 L367.5,105.4" stroke="#2b8a2b" stroke-width="1.7" stroke-dasharray="1.6,2.6"/>
</g>
<rect x="223.7" y="17.6" width="146.8" height="127.80000000000001" fill="none" stroke="#222" stroke-width="1.1"/>
<path d="M225.3,145.4 v-2.2 M225.3,17.6 v2.2 M237.5,145.4 v-3.5 M237.5,17.6 v3.5 M249.7,145.4 v-2.2 M249.7,17.6 v2.2 M261.9,145.4 v-2.2 M261.9,17.6 v2.2 M274.0,145.4 v-2.2 M274.0,17.6 v2.2 M286.2,145.4 v-3.5 M286.2,17.6 v3.5 M298.4,145.4 v-2.2 M298.4,17.6 v2.2 M310.6,145.4 v-2.2 M310.6,17.6 v2.2 M322.7,145.4 v-2.2 M322.7,17.6 v2.2 M334.9,145.4 v-3.5 M334.9,17.6 v3.5 M347.1,145.4 v-2.2 M347.1,17.6 v2.2 M359.2,145.4 v-2.2 M359.2,17.6 v2.2 M223.7,63.4 h2.5 M370.5,63.4 h-2.5 M223.7,101 h2.5 M370.5,101 h-2.5 M223.7,137.3 h2.5 M370.5,137.3 h-2.5 M370.5,25.5 h-2.5" stroke="#222" stroke-width="1"/>
<text x="236.5" y="159.3" font-size="10.7" fill="#222" text-anchor="middle" font-family="'Liberation Sans', Arial, sans-serif" >1.4</text>
<text x="285.2" y="159.3" font-size="10.7" fill="#222" text-anchor="middle" font-family="'Liberation Sans', Arial, sans-serif" >1.6</text>
<text x="333.9" y="159.3" font-size="10.7" fill="#222" text-anchor="middle" font-family="'Liberation Sans', Arial, sans-serif" >1.8</text>
<text transform="translate(297.5,173.7) scale(1.0,0.95)" font-size="12.1" fill="#111" font-weight="bold" text-anchor="middle" font-family="'Liberation Sans', Arial, sans-serif" >Photon energy (eV)</text>
<text x="0" y="0" font-size="12.8" fill="#111" font-weight="bold" text-anchor="middle" font-family="'Liberation Sans', Arial, sans-serif" transform="translate(214.6,88.5) rotate(-90)">Normalized PL</text>
<path d="M228,28.3 h11.5" stroke="#111" stroke-width="1.8"/>
<path d="M228,42 h11.5" stroke="#111" stroke-width="1.8" stroke-dasharray="1.6,1.8"/>
<text x="242.6" y="33" font-size="11.3" fill="#111" font-weight="bold" text-anchor="start" font-family="'Liberation Sans', Arial, sans-serif" >PL</text>
<text x="242.6" y="45.5" font-size="10.8" fill="#111" font-weight="bold" text-anchor="start" font-family="'Liberation Sans', Arial, sans-serif" >Abs</text>
<text x="283.7" y="32.2" font-size="10.1" fill="#e63b2a" font-weight="bold" text-anchor="start" font-family="'Liberation Sans', Arial, sans-serif" >WSe<tspan dy="3.0" font-size="7.6">2</tspan><tspan dy="-3">/MoS</tspan><tspan dy="3.0" font-size="7.6">2</tspan></text>
<text x="229.4" y="91" font-size="9.9" fill="#1b2fb5" font-weight="bold" text-anchor="start" font-family="'Liberation Sans', Arial, sans-serif" >SL WSe<tspan dy="3.0" font-size="7.4">2</tspan></text>
<text x="286" y="123" font-size="9.9" fill="#2b8a2b" font-weight="bold" text-anchor="start" font-family="'Liberation Sans', Arial, sans-serif" >SL MoS<tspan dy="3.0" font-size="7.4">2</tspan></text>
</g>
<text x="204" y="16.9" font-size="16.3" fill="#111" text-anchor="start" font-family="'Liberation Serif', 'Times New Roman', serif" >(b)</text>
<g id="pc">
<defs><radialGradient id="rb" cx="0.4" cy="0.35" r="0.65"><stop offset="0" stop-color="#ff9a8a"/><stop offset="0.35" stop-color="#f03a2a"/><stop offset="1" stop-color="#b81a10"/></radialGradient></defs>
<rect x="390.4" y="16.4" width="151.8" height="153.6" fill="none" stroke="#444" stroke-width="1.2"/>
<path d="M439.4,127 L439.4,59.3 L436.4,59.3 L443.1,53 L449.7,59.3 L447,59.3 L447,127 Z" fill="#f7d675"/>
<path d="M489.3,103.5 L489.3,50.5 L486.6,50.5 L492.8,43.8 L499,50.5 L496.3,50.5 L496.3,103.5 Z" fill="#f7d675"/>
<path d="M456.7,51 L465.1,51 L476.6,93.7 L479.4,93.1 L474.2,101.5 L465.8,96.3 L468.4,95.7 Z" fill="#f7d675"/>
<path d="M488.5,33.5 C484,30.5 475,30 468.5,34" fill="none" stroke="#f7d675" stroke-width="3.8"/>
<path d="M463.6,37 L467.3,31.2 L471.3,36.8 Z" fill="#f7d675"/>
<path d="M447,136.9 L466,136.9 C472,136.9 475.5,132 476.8,125" fill="none" stroke="#f7d675" stroke-width="3.8"/>
<path d="M477.1,118.8 L471.8,124.8 L482.4,124.8 Z" fill="#f7d675"/>
<rect x="431.9" y="47.5" width="36.4" height="3" fill="#2c7a26"/>
<rect x="431.9" y="128.6" width="36.9" height="3" fill="#2c7a26"/>
<rect x="468.2" y="40.3" width="36.9" height="3.2" fill="#1a2a9c"/>
<rect x="468.2" y="103.6" width="36.9" height="3" fill="#1a2a9c"/>
<circle cx="443.1" cy="42.1" r="4.2" fill="url(#rb)"/>
<circle cx="460.6" cy="41.4" r="4.2" fill="url(#rb)"/>
<circle cx="492.8" cy="34.0" r="4.2" fill="url(#rb)"/>
<circle cx="443.4" cy="136.9" r="3.4" fill="#fff" stroke="#444" stroke-width="1"/>
<circle cx="476.5" cy="113.4" r="3.4" fill="#fff" stroke="#444" stroke-width="1"/>
<circle cx="492.4" cy="112.1" r="3.4" fill="#fff" stroke="#444" stroke-width="1"/>
<text x="437.3" y="35.6" font-size="9.5" fill="#e0302a" text-anchor="start" font-family="'Liberation Sans', Arial, sans-serif" font-style="italic">e</text>
<text x="442.6" y="31.5" font-size="7" fill="#e0302a" text-anchor="start" font-family="'Liberation Sans', Arial, sans-serif" >-</text>
<text x="446.3" y="149.6" font-size="10.5" fill="#111" font-weight="bold" text-anchor="start" font-family="'Liberation Sans', Arial, sans-serif" font-style="italic">h</text>
<text x="452.2" y="145" font-size="8" fill="#111" font-weight="bold" text-anchor="start" font-family="'Liberation Sans', Arial, sans-serif" >+</text>
<text x="442.8" y="92.8" font-size="8.6" fill="#555" text-anchor="middle" font-family="'Liberation Sans', Arial, sans-serif" >(1)</text>
<text x="492.3" y="77.8" font-size="8.6" fill="#555" text-anchor="middle" font-family="'Liberation Sans', Arial, sans-serif" >(1)</text>
<text x="466.1" y="78.2" font-size="8.6" fill="#555" text-anchor="middle" font-family="'Liberation Sans', Arial, sans-serif" >(3)</text>
<text x="477.8" y="34.7" font-size="8.6" fill="#555" text-anchor="middle" font-family="'Liberation Sans', Arial, sans-serif" >(2)</text>
<text x="469.4" y="140.5" font-size="8.6" fill="#555" text-anchor="middle" font-family="'Liberation Sans', Arial, sans-serif" >(2)</text>
<text x="413.6" y="51.5" font-size="9.8" fill="#222" text-anchor="start" font-family="'Liberation Sans', Arial, sans-serif" >E<tspan dy="2.5" font-size="7.5">C</tspan></text>
<text x="414" y="132.7" font-size="9.8" fill="#222" text-anchor="start" font-family="'Liberation Sans', Arial, sans-serif" >E<tspan dy="2.5" font-size="7.5">V</tspan></text>
<text x="431.5" y="163.5" font-size="8.8" fill="#2c8a26" font-weight="bold" text-anchor="start" font-family="'Liberation Sans', Arial, sans-serif" >SL MoS<tspan dy="2.6" font-size="6.6">2</tspan></text>
<text x="475.2" y="163.5" font-size="8.8" fill="#1a2aa0" font-weight="bold" text-anchor="start" font-family="'Liberation Sans', Arial, sans-serif" >SL WSe<tspan dy="2.6" font-size="6.6">2</tspan></text>
<path d="M517,163.7 V149.5 M514.6,152.5 L517,149.3 L519.4,152.5 M517,163.7 H531 M528,161.3 L531.2,163.7 L528,166.1" fill="none" stroke="#555" stroke-width="0.9"/>
<text x="514.5" y="146.2" font-size="8.5" fill="#222" text-anchor="start" font-family="'Liberation Sans', Arial, sans-serif" font-style="italic">E</text>
<text x="535.5" y="165.5" font-size="8.5" fill="#222" text-anchor="start" font-family="'Liberation Sans', Arial, sans-serif" font-style="italic">z</text>
</g>
<text x="374" y="16.2" font-size="16.3" fill="#111" text-anchor="start" font-family="'Liberation Serif', 'Times New Roman', serif" >(c)</text>
<g id="pd">
<defs><clipPath id="cd"><rect x="19" y="192" width="186.4" height="95.5"/></clipPath><linearGradient id="gdl" x1="0" y1="0" x2="1" y2="0.3"><stop offset="0" stop-color="#dcc2d4"/><stop offset="0.5" stop-color="#efe0ea"/><stop offset="1" stop-color="#f8f0f6"/></linearGradient><linearGradient id="gdt" x1="0" y1="0" x2="1" y2="0"><stop offset="0" stop-color="#b48fa6"/><stop offset="0.6" stop-color="#c9a6bd"/><stop offset="1" stop-color="#e6cfe0"/></linearGradient></defs>
<g clip-path="url(#cd)">
<rect x="19" y="192" width="187" height="96" fill="#8c677c"/>
<g filter="url(#soft)">
<path d="M35.7,204.3 L150,204 L129.5,214 L86.5,244 L35.7,243.3 Z" fill="#936a82"/>
<path d="M33,186 L154,186 L154,192 L130,203 L33,204.3 Z" fill="#c39cb5"/>
<path d="M130,203 L154,192 L169.5,209.6 L187,229 L202.8,248.7 L212,252 L212,261 L155.5,227 L129.5,214 Z" fill="#bc9ab0"/>
<path d="M154,192 L154,186 L212,186 L212,252 L202.8,248.7 C196,240 192,235 187,229 C181,222 175,215 169.5,209.6 C164,204 159,198 154,192 Z" fill="url(#gdl)"/>
<path d="M155.5,227 L212,261 L212,262 L201.8,258 L150,248 Z" fill="#ad889f"/>
<path d="M150,248 L212,259 L212,294 L140,294 L142,288 Z" fill="#a37e95"/>
<rect x="13" y="186" width="20" height="108" fill="#6e4a60"/>
<rect x="33" y="204" width="2.7" height="40" fill="#7a5468"/>
<path d="M33,243.3 L86.8,244.3 L42.2,288 L36,294 L33,294 Z" fill="#6c4860"/>
</g>
</g>
<rect x="19" y="192" width="186.4" height="95.5" fill="none" stroke="#4a3040" stroke-width="0.8"/>
<path d="M86.5,244 L129.5,214 L155.5,227 L201.8,258 M86.5,244 L150,248 L201.8,258 M155.5,227 L148.6,247" fill="none" stroke="#fff" stroke-width="1.3" stroke-dasharray="3.5,2.5"/>
<text transform="translate(43.7,227.6) scale(1.09,1.0)" font-size="10.8" fill="#111" text-anchor="start" font-family="'Liberation Sans', Arial, sans-serif" >ML MoTe<tspan dy="3.2" font-size="8.1">2</tspan></text>
<text transform="translate(102.3,240) scale(1.06,1.0)" font-size="10.8" fill="#111" text-anchor="start" font-family="'Liberation Sans', Arial, sans-serif" >1L_W HS</text>
<text transform="translate(152.5,245.9) scale(1.09,1.0)" font-size="10.8" fill="#111" text-anchor="start" font-family="'Liberation Sans', Arial, sans-serif" >2L_W HS</text>
<text transform="translate(78.6,271.8) scale(1.07,1.0)" font-size="10.8" fill="#111" text-anchor="start" font-family="'Liberation Sans', Arial, sans-serif" >1L_WSe<tspan dy="3.2" font-size="8.1">2</tspan></text>
<text transform="translate(147.3,274.1) scale(1.1,1.0)" font-size="10.8" fill="#111" text-anchor="start" font-family="'Liberation Sans', Arial, sans-serif" >2L_WSe<tspan dy="3.2" font-size="8.1">2</tspan></text>
<rect x="163" y="280.8" width="39.4" height="3" fill="#000"/>
</g>
<text x="5" y="189.4" font-size="16.3" fill="#111" text-anchor="start" font-family="'Liberation Serif', 'Times New Roman', serif" >(d)</text>
<g id="pe">
<defs><clipPath id="ce"><rect x="238.3" y="186.4" width="153.3" height="281.0"/></clipPath></defs>
<g clip-path="url(#ce)">
<path d="M251.0,196.0 L251.5,196.0 L252.0,196.0 L252.5,196.0 L253.0,196.0 L253.5,196.0 L254.0,196.0 L254.5,196.0 L255.0,196.0 L255.5,196.0 L256.0,196.0 L256.5,196.0 L257.0,196.0 L257.5,196.0 L258.0,196.0 L258.5,196.0 L259.0,196.0 L259.5,196.0 L260.0,196.0 L260.5,196.0 L261.0,196.0 L261.5,196.0 L262.0,196.0 L262.5,196.0 L263.0,196.0 L263.5,196.0 L264.0,196.0 L264.5,195.9 L265.0,195.9 L265.5,195.9 L266.0,195.9 L266.5,195.9 L267.0,195.8 L267.5,195.8 L268.0,195.8 L268.5,195.7 L269.0,195.7 L269.5,195.7 L270.0,195.7 L270.5,195.7 L271.0,195.6 L271.5,195.6 L272.0,195.6 L272.5,195.6 L273.0,195.6 L273.5,195.6 L274.0,195.7 L274.5,195.8 L275.0,195.9 L275.5,196.1 L276.0,196.3 L276.5,196.6 L277.0,196.9 L277.5,197.2 L278.0,197.5 L278.5,198.0 L279.0,198.8 L279.5,199.8 L280.0,201.1 L280.5,202.5 L281.0,204.0 L281.5,206.0 L282.0,208.6 L282.5,211.6 L283.0,214.8 L283.5,218.1 L284.0,221.0 L284.5,223.7 L285.0,226.5 L285.5,229.2 L286.0,231.9 L286.5,234.5 L287.0,237.0 L287.5,239.5 L288.0,242.0 L288.5,244.5 L289.0,246.9 L289.5,249.1 L290.0,251.0 L290.5,252.9 L291.0,254.9 L291.5,256.7 L292.0,258.2 L292.5,258.9 L293.0,258.9 L293.5,258.3 L294.0,257.4 L294.5,256.2 L295.0,255.0 L295.5,253.9 L296.0,253.0 L296.5,252.3 L297.0,251.7 L297.5,251.1 L298.0,250.5 L298.5,250.0 L299.0,249.5 L299.5,248.9 L300.0,248.3 L300.5,247.8 L301.0,247.1 L301.5,246.4 L302.0,245.7 L302.5,245.0 L303.0,244.3 L303.5,243.5 L304.0,242.8 L304.5,242.1 L305.0,241.5 L305.5,240.9 L306.0,240.3 L306.5,239.7 L307.0,239.2 L307.5,238.6 L308.0,238.1 L308.5,237.6 L309.0,237.1 L309.5,236.6 L310.0,236.0 L310.5,235.5 L311.0,235.0 L311.5,234.5 L312.0,233.9 L312.5,233.4 L313.0,232.9 L313.5,232.4 L314.0,231.8 L314.5,231.3 L315.0,230.8 L315.5,230.3 L316.0,229.7 L316.5,229.2 L317.0,228.7 L317.5,228.3 L318.0,227.8 L318.5,227.3 L319.0,226.9 L319.5,226.4 L320.0,226.0 L320.5,225.6 L321.0,225.2 L321.5,224.8 L322.0,224.4 L322.5,224.0 L323.0,223.6 L323.5,223.2 L324.0,222.8 L324.5,222.4 L325.0,222.1 L325.5,221.7 L326.0,221.4 L326.5,221.0 L327.0,220.7 L327.5,220.4 L328.0,220.1 L328.5,219.8 L329.0,219.5 L329.5,219.2 L330.0,219.0 L330.5,218.8 L331.0,218.5 L331.5,218.3 L332.0,218.1 L332.5,217.8 L333.0,217.6 L333.5,217.4 L334.0,217.2 L334.5,217.0 L335.0,216.8 L335.5,216.5 L336.0,216.3 L336.5,216.1 L337.0,215.9 L337.5,215.7 L338.0,215.6 L338.5,215.4 L339.0,215.2 L339.5,215.0 L340.0,214.8 L340.5,214.7 L341.0,214.5 L341.5,214.3 L342.0,214.2 L342.5,214.0 L343.0,213.8 L343.5,213.7 L344.0,213.6 L344.5,213.4 L345.0,213.3 L345.5,213.2 L346.0,213.0 L346.5,212.9 L347.0,212.8 L347.5,212.7 L348.0,212.6 L348.5,212.5 L349.0,212.4 L349.5,212.3 L350.0,212.2 L350.5,212.1 L351.0,212.0 L351.5,212.0 L352.0,211.9 L352.5,211.8 L353.0,211.7 L353.5,211.7 L354.0,211.6 L354.5,211.5 L355.0,211.5 L355.5,211.4 L356.0,211.4 L356.5,211.3 L357.0,211.2 L357.5,211.2 L358.0,211.1 L358.5,211.1 L359.0,211.0 L359.5,211.0 L360.0,210.9 L360.5,210.9 L361.0,210.8 L361.5,210.8 L362.0,210.7 L362.5,210.7 L363.0,210.6 L363.5,210.6 L364.0,210.5 L364.5,210.5 L365.0,210.5 L365.5,210.4 L366.0,210.4 L366.5,210.3 L367.0,210.3 L367.5,210.2 L368.0,210.2 L368.5,210.1 L369.0,210.1 L369.5,210.0 L370.0,210.0 L370.5,210.0 L371.0,209.9 L371.5,209.9 L372.0,209.8 L372.5,209.8 L373.0,209.7 L373.5,209.7 L374.0,209.6 L374.5,209.6 L375.0,209.5 L375.5,209.5 L376.0,209.4 L376.5,209.4 L377.0,209.3 L377.5,209.3 L378.0,209.3 L378.5,209.2 L379.0,209.2 L379.5,209.1 L380.0,209.1 L380.5,209.0 L381.0,209.0 L381.5,209.0 L382.0,208.9 L382.5,208.9 L383.0,208.8 L383.5,208.8 L384.0,208.7 L384.5,208.7 L385.0,208.7 L385.5,208.6 L386.0,208.6 L386.5,208.5 L387.0,208.5 L387.5,208.5 L388.0,208.4 L388.5,208.4 L389.0,208.3 L389.5,208.3 L390.0,208.3 L390.5,208.2 L391.0,208.2" fill="none" stroke="#b3231a" stroke-width="1.8" stroke-linejoin="round"/>
<g fill="#b3231a"><circle cx="251.3" cy="196.9" r="1.85"/><circle cx="253.5" cy="197.3" r="1.85"/><circle cx="256.3" cy="195.7" r="1.85"/><circle cx="258.7" cy="196.3" r="1.85"/><circle cx="260.6" cy="195.6" r="1.85"/><circle cx="263.1" cy="196.1" r="1.85"/><circle cx="265.8" cy="196.1" r="1.85"/><circle cx="268.0" cy="195.3" r="1.85"/><circle cx="270.8" cy="197.0" r="1.85"/><circle cx="273.0" cy="195.1" r="1.85"/><circle cx="276.0" cy="198.2" r="1.85"/><circle cx="277.7" cy="198.1" r="1.85"/><circle cx="280.5" cy="201.3" r="1.85"/><circle cx="282.5" cy="210.7" r="1.85"/><circle cx="284.5" cy="222.0" r="1.85"/><circle cx="286.8" cy="231.5" r="1.85"/><circle cx="287.7" cy="240.2" r="1.85"/><circle cx="289.7" cy="249.4" r="1.85"/><circle cx="291.9" cy="256.5" r="1.85"/><circle cx="294.4" cy="257.4" r="1.85"/><circle cx="296.0" cy="252.4" r="1.85"/><circle cx="298.6" cy="252.0" r="1.85"/><circle cx="300.5" cy="246.2" r="1.85"/><circle cx="303.6" cy="243.4" r="1.85"/><circle cx="305.8" cy="240.1" r="1.85"/><circle cx="307.6" cy="241.1" r="1.85"/><circle cx="310.3" cy="235.7" r="1.85"/><circle cx="312.8" cy="232.5" r="1.85"/><circle cx="314.7" cy="229.6" r="1.85"/><circle cx="317.7" cy="226.5" r="1.85"/><circle cx="320.4" cy="225.3" r="1.85"/><circle cx="322.5" cy="225.6" r="1.85"/><circle cx="324.9" cy="220.2" r="1.85"/><circle cx="327.6" cy="221.1" r="1.85"/><circle cx="329.6" cy="219.0" r="1.85"/><circle cx="332.2" cy="217.7" r="1.85"/><circle cx="334.5" cy="219.1" r="1.85"/><circle cx="336.6" cy="215.9" r="1.85"/><circle cx="339.1" cy="215.0" r="1.85"/><circle cx="341.6" cy="214.1" r="1.85"/><circle cx="343.7" cy="213.8" r="1.85"/><circle cx="346.7" cy="213.2" r="1.85"/><circle cx="348.4" cy="212.4" r="1.85"/><circle cx="351.6" cy="213.1" r="1.85"/><circle cx="353.2" cy="210.3" r="1.85"/><circle cx="356.4" cy="211.8" r="1.85"/><circle cx="358.7" cy="211.7" r="1.85"/><circle cx="360.7" cy="210.2" r="1.85"/><circle cx="363.1" cy="212.7" r="1.85"/><circle cx="365.3" cy="208.6" r="1.85"/><circle cx="367.7" cy="210.3" r="1.85"/><circle cx="370.4" cy="210.8" r="1.85"/><circle cx="372.9" cy="209.7" r="1.85"/><circle cx="375.1" cy="209.6" r="1.85"/><circle cx="377.5" cy="206.8" r="1.85"/><circle cx="380.2" cy="208.0" r="1.85"/><circle cx="382.4" cy="207.7" r="1.85"/><circle cx="384.4" cy="207.6" r="1.85"/><circle cx="387.6" cy="208.9" r="1.85"/><circle cx="389.9" cy="206.1" r="1.85"/><circle cx="261.7" cy="204.5" r="1.85"/><circle cx="268.0" cy="204.5" r="1.85"/><circle cx="267.3" cy="212.6" r="1.85"/><circle cx="265.0" cy="217.5" r="1.85"/><circle cx="255.0" cy="192.0" r="1.85"/><circle cx="259.0" cy="190.5" r="1.85"/></g>
<text x="366.2" y="221" font-size="10.2" fill="#b3231a" text-anchor="start" font-family="'Liberation Sans', Arial, sans-serif" >295K</text>
<path d="M247.8,220.8 L248.3,220.8 L248.8,220.9 L249.3,220.9 L249.8,220.9 L250.3,221.0 L250.8,221.0 L251.3,221.0 L251.8,221.1 L252.3,221.1 L252.8,221.1 L253.3,221.2 L253.8,221.2 L254.3,221.2 L254.8,221.3 L255.3,221.3 L255.8,221.3 L256.3,221.4 L256.8,221.4 L257.3,221.4 L257.8,221.5 L258.3,221.5 L258.8,221.6 L259.3,221.6 L259.8,221.6 L260.3,221.6 L260.8,221.7 L261.3,221.7 L261.8,221.7 L262.3,221.7 L262.8,221.8 L263.3,221.8 L263.8,221.8 L264.3,221.9 L264.8,221.9 L265.3,222.0 L265.8,222.0 L266.3,222.1 L266.8,222.1 L267.3,222.2 L267.8,222.3 L268.3,222.4 L268.8,222.6 L269.3,222.9 L269.8,223.2 L270.3,223.5 L270.8,223.9 L271.3,224.3 L271.8,224.8 L272.3,225.4 L272.8,226.3 L273.3,227.4 L273.8,228.9 L274.3,230.5 L274.8,232.3 L275.3,234.1 L275.8,236.0 L276.3,238.0 L276.8,240.3 L277.3,242.8 L277.8,245.5 L278.3,248.3 L278.8,251.2 L279.3,254.2 L279.8,257.2 L280.3,260.4 L280.8,263.8 L281.3,267.3 L281.8,271.2 L282.3,275.6 L282.8,279.8 L283.3,283.0 L283.8,285.4 L284.3,287.7 L284.8,289.8 L285.3,291.6 L285.8,292.9 L286.3,293.8 L286.8,294.0 L287.3,293.8 L287.8,293.3 L288.3,292.7 L288.8,292.0 L289.3,291.1 L289.8,290.3 L290.3,289.5 L290.8,288.5 L291.3,287.4 L291.8,286.2 L292.3,285.1 L292.8,283.9 L293.3,282.9 L293.8,281.8 L294.3,280.7 L294.8,279.7 L295.3,278.6 L295.8,277.6 L296.3,276.6 L296.8,275.6 L297.3,274.6 L297.8,273.7 L298.3,272.8 L298.8,271.8 L299.3,270.9 L299.8,270.0 L300.3,269.1 L300.8,268.3 L301.3,267.4 L301.8,266.6 L302.3,265.7 L302.8,264.9 L303.3,264.1 L303.8,263.4 L304.3,262.6 L304.8,261.9 L305.3,261.2 L305.8,260.6 L306.3,260.0 L306.8,259.4 L307.3,258.8 L307.8,258.2 L308.3,257.7 L308.8,257.1 L309.3,256.6 L309.8,256.1 L310.3,255.6 L310.8,255.1 L311.3,254.6 L311.8,254.1 L312.3,253.6 L312.8,253.2 L313.3,252.7 L313.8,252.3 L314.3,251.8 L314.8,251.4 L315.3,251.0 L315.8,250.6 L316.3,250.2 L316.8,249.7 L317.3,249.3 L317.8,248.9 L318.3,248.5 L318.8,248.1 L319.3,247.7 L319.8,247.3 L320.3,246.9 L320.8,246.5 L321.3,246.1 L321.8,245.7 L322.3,245.3 L322.8,245.0 L323.3,244.6 L323.8,244.3 L324.3,243.9 L324.8,243.6 L325.3,243.3 L325.8,243.0 L326.3,242.7 L326.8,242.4 L327.3,242.2 L327.8,241.9 L328.3,241.7 L328.8,241.5 L329.3,241.2 L329.8,241.0 L330.3,240.8 L330.8,240.6 L331.3,240.5 L331.8,240.3 L332.3,240.1 L332.8,239.9 L333.3,239.7 L333.8,239.6 L334.3,239.4 L334.8,239.3 L335.3,239.1 L335.8,239.0 L336.3,238.8 L336.8,238.7 L337.3,238.5 L337.8,238.4 L338.3,238.3 L338.8,238.2 L339.3,238.0 L339.8,237.9 L340.3,237.8 L340.8,237.7 L341.3,237.6 L341.8,237.5 L342.3,237.4 L342.8,237.3 L343.3,237.2 L343.8,237.2 L344.3,237.1 L344.8,237.0 L345.3,236.9 L345.8,236.8 L346.3,236.7 L346.8,236.6 L347.3,236.6 L347.8,236.5 L348.3,236.4 L348.8,236.3 L349.3,236.3 L349.8,236.2 L350.3,236.1 L350.8,236.1 L351.3,236.0 L351.8,235.9 L352.3,235.9 L352.8,235.8 L353.3,235.7 L353.8,235.7 L354.3,235.6 L354.8,235.6 L355.3,235.5 L355.8,235.5 L356.3,235.4 L356.8,235.3 L357.3,235.3 L357.8,235.2 L358.3,235.2 L358.8,235.1 L359.3,235.1 L359.8,235.0 L360.3,235.0 L360.8,234.9 L361.3,234.9 L361.8,234.8 L362.3,234.8 L362.8,234.7 L363.3,234.7 L363.8,234.6 L364.3,234.6 L364.8,234.5 L365.3,234.5 L365.8,234.4 L366.3,234.4 L366.8,234.3 L367.3,234.3 L367.8,234.2 L368.3,234.2 L368.8,234.1 L369.3,234.1 L369.8,234.0 L370.3,234.0 L370.8,234.0 L371.3,233.9 L371.8,233.9 L372.3,233.8 L372.8,233.8 L373.3,233.7 L373.8,233.7 L374.3,233.7 L374.8,233.6 L375.3,233.6 L375.8,233.5 L376.3,233.5 L376.8,233.4 L377.3,233.4 L377.8,233.4 L378.3,233.3 L378.8,233.3 L379.3,233.3 L379.8,233.2 L380.3,233.2 L380.8,233.2 L381.3,233.1 L381.8,233.1 L382.3,233.1 L382.8,233.0 L383.3,233.0 L383.8,233.0 L384.3,232.9 L384.8,232.9 L385.3,232.9 L385.8,232.8 L386.3,232.8 L386.8,232.8 L387.3,232.8 L387.8,232.7 L388.3,232.7 L388.8,232.7 L389.3,232.7 L389.8,232.6 L390.3,232.6 L390.8,232.6" fill="none" stroke="#e6391f" stroke-width="1.8" stroke-linejoin="round"/>
<g fill="#e6391f"><circle cx="248.2" cy="220.4" r="1.85"/><circle cx="250.8" cy="221.3" r="1.85"/><circle cx="252.7" cy="221.8" r="1.85"/><circle cx="255.2" cy="221.6" r="1.85"/><circle cx="257.7" cy="221.5" r="1.85"/><circle cx="260.0" cy="221.6" r="1.85"/><circle cx="262.3" cy="221.6" r="1.85"/><circle cx="265.5" cy="222.1" r="1.85"/><circle cx="267.6" cy="222.7" r="1.85"/><circle cx="269.7" cy="223.9" r="1.85"/><circle cx="272.1" cy="226.4" r="1.85"/><circle cx="274.5" cy="231.6" r="1.85"/><circle cx="275.3" cy="235.9" r="1.85"/><circle cx="278.2" cy="245.4" r="1.85"/><circle cx="279.6" cy="258.9" r="1.85"/><circle cx="282.3" cy="270.2" r="1.85"/><circle cx="285.4" cy="285.0" r="1.85"/><circle cx="285.2" cy="292.8" r="1.85"/><circle cx="288.0" cy="294.4" r="1.85"/><circle cx="290.5" cy="290.7" r="1.85"/><circle cx="293.0" cy="284.4" r="1.85"/><circle cx="293.4" cy="280.6" r="1.85"/><circle cx="295.8" cy="277.2" r="1.85"/><circle cx="298.8" cy="271.0" r="1.85"/><circle cx="300.7" cy="268.4" r="1.85"/><circle cx="303.8" cy="266.1" r="1.85"/><circle cx="306.1" cy="261.4" r="1.85"/><circle cx="308.3" cy="256.0" r="1.85"/><circle cx="310.2" cy="254.3" r="1.85"/><circle cx="312.4" cy="253.0" r="1.85"/><circle cx="314.8" cy="250.8" r="1.85"/><circle cx="317.9" cy="249.8" r="1.85"/><circle cx="320.6" cy="244.6" r="1.85"/><circle cx="323.0" cy="246.0" r="1.85"/><circle cx="325.4" cy="243.0" r="1.85"/><circle cx="327.0" cy="242.7" r="1.85"/><circle cx="329.4" cy="241.5" r="1.85"/><circle cx="332.5" cy="241.6" r="1.85"/><circle cx="334.8" cy="237.8" r="1.85"/><circle cx="337.2" cy="238.9" r="1.85"/><circle cx="338.9" cy="236.8" r="1.85"/><circle cx="342.0" cy="235.5" r="1.85"/><circle cx="344.4" cy="236.4" r="1.85"/><circle cx="346.8" cy="236.8" r="1.85"/><circle cx="348.7" cy="237.3" r="1.85"/><circle cx="351.2" cy="233.2" r="1.85"/><circle cx="353.6" cy="237.4" r="1.85"/><circle cx="355.8" cy="234.8" r="1.85"/><circle cx="358.1" cy="236.5" r="1.85"/><circle cx="361.2" cy="236.8" r="1.85"/><circle cx="362.9" cy="236.1" r="1.85"/><circle cx="365.9" cy="231.7" r="1.85"/><circle cx="368.0" cy="233.6" r="1.85"/><circle cx="370.0" cy="233.8" r="1.85"/><circle cx="373.4" cy="233.0" r="1.85"/><circle cx="375.7" cy="232.5" r="1.85"/><circle cx="377.6" cy="234.8" r="1.85"/><circle cx="379.8" cy="231.7" r="1.85"/><circle cx="382.3" cy="232.8" r="1.85"/><circle cx="385.0" cy="233.7" r="1.85"/><circle cx="387.1" cy="232.3" r="1.85"/><circle cx="390.1" cy="232.9" r="1.85"/><circle cx="269.7" cy="235.1" r="1.85"/><circle cx="272.2" cy="242.3" r="1.85"/><circle cx="273.6" cy="257.0" r="1.85"/><circle cx="254.0" cy="224.5" r="1.85"/><circle cx="258.0" cy="224.5" r="1.85"/></g>
<text x="363.5" y="247.7" font-size="10.2" fill="#e6391f" text-anchor="start" font-family="'Liberation Sans', Arial, sans-serif" >245K</text>
<path d="M243.9,249.0 L244.4,248.9 L244.9,248.7 L245.4,248.6 L245.9,248.4 L246.4,248.3 L246.9,248.2 L247.4,248.0 L247.9,247.9 L248.4,247.8 L248.9,247.7 L249.4,247.6 L249.9,247.5 L250.4,247.4 L250.9,247.4 L251.4,247.3 L251.9,247.2 L252.4,247.1 L252.9,247.0 L253.4,246.9 L253.9,246.9 L254.4,246.8 L254.9,246.8 L255.4,246.7 L255.9,246.7 L256.4,246.6 L256.9,246.6 L257.4,246.6 L257.9,246.6 L258.4,246.6 L258.9,246.7 L259.4,246.8 L259.9,246.9 L260.4,247.0 L260.9,247.2 L261.4,247.3 L261.9,247.5 L262.4,247.7 L262.9,248.0 L263.4,248.3 L263.9,248.8 L264.4,249.3 L264.9,249.9 L265.4,250.5 L265.9,251.2 L266.4,252.2 L266.9,253.2 L267.4,254.5 L267.9,255.8 L268.4,257.3 L268.9,258.9 L269.4,260.7 L269.9,262.8 L270.4,265.3 L270.9,268.2 L271.4,271.2 L271.9,274.2 L272.4,277.0 L272.9,279.9 L273.4,282.9 L273.9,285.9 L274.4,289.1 L274.9,292.3 L275.4,295.8 L275.9,299.7 L276.4,303.7 L276.9,307.6 L277.4,311.1 L277.9,314.2 L278.4,317.1 L278.9,319.6 L279.4,321.7 L279.9,323.2 L280.4,324.7 L280.9,325.8 L281.4,326.4 L281.9,326.5 L282.4,326.3 L282.9,326.0 L283.4,325.5 L283.9,325.1 L284.4,324.6 L284.9,324.1 L285.4,323.5 L285.9,322.7 L286.4,321.9 L286.9,321.1 L287.4,320.1 L287.9,319.2 L288.4,318.2 L288.9,317.0 L289.4,315.8 L289.9,314.5 L290.4,313.2 L290.9,311.8 L291.4,310.4 L291.9,309.1 L292.4,307.8 L292.9,306.6 L293.4,305.5 L293.9,304.4 L294.4,303.3 L294.9,302.2 L295.4,301.1 L295.9,300.1 L296.4,299.0 L296.9,298.0 L297.4,297.0 L297.9,296.0 L298.4,295.1 L298.9,294.1 L299.4,293.2 L299.9,292.4 L300.4,291.6 L300.9,290.8 L301.4,290.0 L301.9,289.3 L302.4,288.5 L302.9,287.8 L303.4,287.1 L303.9,286.4 L304.4,285.7 L304.9,285.0 L305.4,284.3 L305.9,283.7 L306.4,283.1 L306.9,282.5 L307.4,281.9 L307.9,281.3 L308.4,280.8 L308.9,280.2 L309.4,279.7 L309.9,279.3 L310.4,278.8 L310.9,278.4 L311.4,278.0 L311.9,277.6 L312.4,277.2 L312.9,276.8 L313.4,276.5 L313.9,276.1 L314.4,275.8 L314.9,275.4 L315.4,275.1 L315.9,274.8 L316.4,274.4 L316.9,274.1 L317.4,273.8 L317.9,273.5 L318.4,273.3 L318.9,273.0 L319.4,272.7 L319.9,272.5 L320.4,272.2 L320.9,272.0 L321.4,271.7 L321.9,271.5 L322.4,271.3 L322.9,271.1 L323.4,270.9 L323.9,270.7 L324.4,270.5 L324.9,270.3 L325.4,270.1 L325.9,269.9 L326.4,269.8 L326.9,269.6 L327.4,269.4 L327.9,269.2 L328.4,269.1 L328.9,268.9 L329.4,268.7 L329.9,268.6 L330.4,268.4 L330.9,268.3 L331.4,268.1 L331.9,268.0 L332.4,267.9 L332.9,267.7 L333.4,267.6 L333.9,267.4 L334.4,267.3 L334.9,267.2 L335.4,267.1 L335.9,266.9 L336.4,266.8 L336.9,266.7 L337.4,266.6 L337.9,266.5 L338.4,266.3 L338.9,266.2 L339.4,266.1 L339.9,266.0 L340.4,265.9 L340.9,265.8 L341.4,265.7 L341.9,265.6 L342.4,265.5 L342.9,265.4 L343.4,265.3 L343.9,265.2 L344.4,265.1 L344.9,265.0 L345.4,264.9 L345.9,264.8 L346.4,264.7 L346.9,264.6 L347.4,264.5 L347.9,264.4 L348.4,264.3 L348.9,264.2 L349.4,264.1 L349.9,264.1 L350.4,264.0 L350.9,263.9 L351.4,263.8 L351.9,263.7 L352.4,263.6 L352.9,263.5 L353.4,263.5 L353.9,263.4 L354.4,263.3 L354.9,263.2 L355.4,263.1 L355.9,263.1 L356.4,263.0 L356.9,262.9 L357.4,262.9 L357.9,262.8 L358.4,262.7 L358.9,262.7 L359.4,262.6 L359.9,262.5 L360.4,262.5 L360.9,262.4 L361.4,262.4 L361.9,262.3 L362.4,262.2 L362.9,262.2 L363.4,262.1 L363.9,262.1 L364.4,262.1 L364.9,262.0 L365.4,262.0 L365.9,261.9 L366.4,261.9 L366.9,261.8 L367.4,261.8 L367.9,261.8 L368.4,261.7 L368.9,261.7 L369.4,261.6 L369.9,261.6 L370.4,261.6 L370.9,261.5 L371.4,261.5 L371.9,261.4 L372.4,261.4 L372.9,261.4 L373.4,261.3 L373.9,261.3 L374.4,261.3 L374.9,261.2 L375.4,261.2 L375.9,261.2 L376.4,261.1 L376.9,261.1 L377.4,261.1 L377.9,261.0 L378.4,261.0 L378.9,261.0 L379.4,260.9 L379.9,260.9 L380.4,260.9 L380.9,260.9 L381.4,260.8 L381.9,260.8 L382.4,260.8 L382.9,260.8 L383.4,260.7 L383.9,260.7 L384.4,260.7 L384.9,260.7 L385.4,260.7 L385.9,260.7 L386.4,260.7 L386.9,260.6 L387.4,260.6 L387.9,260.6 L388.4,260.6 L388.9,260.6 L389.4,260.6 L389.9,260.6" fill="none" stroke="#cfcf2c" stroke-width="1.8" stroke-linejoin="round"/>
<g fill="#cfcf2c"><circle cx="244.3" cy="247.4" r="1.85"/><circle cx="247.2" cy="248.6" r="1.85"/><circle cx="249.1" cy="248.8" r="1.85"/><circle cx="251.6" cy="246.6" r="1.85"/><circle cx="254.0" cy="248.0" r="1.85"/><circle cx="256.1" cy="246.8" r="1.85"/><circle cx="258.3" cy="246.9" r="1.85"/><circle cx="261.2" cy="246.6" r="1.85"/><circle cx="263.8" cy="247.6" r="1.85"/><circle cx="265.8" cy="251.5" r="1.85"/><circle cx="266.7" cy="254.6" r="1.85"/><circle cx="269.4" cy="262.5" r="1.85"/><circle cx="271.7" cy="273.8" r="1.85"/><circle cx="274.2" cy="284.1" r="1.85"/><circle cx="274.4" cy="297.8" r="1.85"/><circle cx="277.0" cy="310.9" r="1.85"/><circle cx="278.7" cy="321.4" r="1.85"/><circle cx="281.4" cy="325.4" r="1.85"/><circle cx="283.6" cy="324.1" r="1.85"/><circle cx="286.4" cy="322.3" r="1.85"/><circle cx="288.0" cy="319.5" r="1.85"/><circle cx="288.9" cy="312.7" r="1.85"/><circle cx="290.6" cy="309.3" r="1.85"/><circle cx="293.5" cy="302.9" r="1.85"/><circle cx="296.5" cy="298.6" r="1.85"/><circle cx="297.6" cy="296.8" r="1.85"/><circle cx="299.9" cy="290.8" r="1.85"/><circle cx="303.1" cy="286.4" r="1.85"/><circle cx="304.8" cy="284.4" r="1.85"/><circle cx="307.1" cy="280.2" r="1.85"/><circle cx="310.3" cy="280.0" r="1.85"/><circle cx="312.8" cy="277.1" r="1.85"/><circle cx="314.6" cy="272.2" r="1.85"/><circle cx="317.4" cy="274.3" r="1.85"/><circle cx="319.2" cy="271.5" r="1.85"/><circle cx="321.7" cy="272.1" r="1.85"/><circle cx="324.0" cy="269.8" r="1.85"/><circle cx="326.2" cy="271.2" r="1.85"/><circle cx="329.2" cy="268.6" r="1.85"/><circle cx="331.3" cy="268.2" r="1.85"/><circle cx="334.0" cy="267.0" r="1.85"/><circle cx="336.8" cy="266.8" r="1.85"/><circle cx="339.0" cy="266.8" r="1.85"/><circle cx="340.9" cy="265.7" r="1.85"/><circle cx="343.0" cy="265.4" r="1.85"/><circle cx="345.5" cy="263.9" r="1.85"/><circle cx="348.2" cy="266.1" r="1.85"/><circle cx="350.5" cy="262.8" r="1.85"/><circle cx="352.7" cy="264.8" r="1.85"/><circle cx="355.7" cy="262.4" r="1.85"/><circle cx="357.5" cy="264.4" r="1.85"/><circle cx="360.2" cy="263.1" r="1.85"/><circle cx="362.3" cy="263.7" r="1.85"/><circle cx="365.4" cy="261.4" r="1.85"/><circle cx="367.1" cy="262.0" r="1.85"/><circle cx="370.3" cy="261.3" r="1.85"/><circle cx="372.3" cy="260.7" r="1.85"/><circle cx="375.1" cy="262.4" r="1.85"/><circle cx="376.9" cy="262.0" r="1.85"/><circle cx="379.2" cy="261.9" r="1.85"/><circle cx="381.5" cy="261.0" r="1.85"/><circle cx="384.0" cy="261.0" r="1.85"/><circle cx="386.5" cy="260.0" r="1.85"/><circle cx="388.9" cy="262.4" r="1.85"/><circle cx="253.6" cy="241.6" r="1.85"/><circle cx="256.0" cy="240.0" r="1.85"/><circle cx="258.0" cy="256.0" r="1.85"/><circle cx="247.0" cy="251.0" r="1.85"/></g>
<text x="360" y="276.5" font-size="10.2" fill="#cfcf2c" text-anchor="start" font-family="'Liberation Sans', Arial, sans-serif" >200K</text>
<path d="M238.0,272.0 L238.5,272.0 L239.0,272.0 L239.5,272.0 L240.0,271.9 L240.5,271.9 L241.0,271.9 L241.5,271.9 L242.0,271.9 L242.5,271.9 L243.0,271.8 L243.5,271.8 L244.0,271.8 L244.5,271.8 L245.0,271.7 L245.5,271.7 L246.0,271.7 L246.5,271.7 L247.0,271.7 L247.5,271.6 L248.0,271.6 L248.5,271.6 L249.0,271.6 L249.5,271.5 L250.0,271.5 L250.5,271.5 L251.0,271.4 L251.5,271.4 L252.0,271.4 L252.5,271.3 L253.0,271.3 L253.5,271.2 L254.0,271.2 L254.5,271.1 L255.0,271.1 L255.5,271.1 L256.0,271.0 L256.5,271.0 L257.0,271.0 L257.5,271.0 L258.0,271.1 L258.5,271.3 L259.0,271.6 L259.5,272.1 L260.0,272.6 L260.5,273.2 L261.0,273.8 L261.5,274.6 L262.0,275.3 L262.5,276.1 L263.0,277.0 L263.5,278.1 L264.0,279.4 L264.5,280.9 L265.0,282.5 L265.5,284.4 L266.0,286.7 L266.5,289.5 L267.0,292.8 L267.5,296.4 L268.0,300.1 L268.5,304.0 L269.0,308.1 L269.5,312.9 L270.0,318.2 L270.5,323.5 L271.0,328.1 L271.5,331.6 L272.0,334.4 L272.5,336.9 L273.0,339.2 L273.5,341.2 L274.0,343.1 L274.5,344.8 L275.0,346.4 L275.5,347.9 L276.0,349.5 L276.5,351.0 L277.0,352.4 L277.5,353.5 L278.0,354.2 L278.5,354.5 L279.0,354.4 L279.5,354.2 L280.0,353.9 L280.5,353.5 L281.0,353.0 L281.5,352.3 L282.0,351.3 L282.5,350.0 L283.0,348.5 L283.5,346.9 L284.0,345.2 L284.5,343.6 L285.0,342.1 L285.5,340.8 L286.0,339.5 L286.5,338.3 L287.0,337.1 L287.5,336.0 L288.0,334.8 L288.5,333.7 L289.0,332.6 L289.5,331.5 L290.0,330.4 L290.5,329.3 L291.0,328.3 L291.5,327.2 L292.0,326.2 L292.5,325.3 L293.0,324.3 L293.5,323.4 L294.0,322.4 L294.5,321.5 L295.0,320.6 L295.5,319.7 L296.0,318.8 L296.5,317.9 L297.0,317.0 L297.5,316.2 L298.0,315.4 L298.5,314.6 L299.0,313.8 L299.5,313.1 L300.0,312.4 L300.5,311.8 L301.0,311.1 L301.5,310.5 L302.0,309.9 L302.5,309.3 L303.0,308.7 L303.5,308.1 L304.0,307.6 L304.5,307.0 L305.0,306.5 L305.5,306.0 L306.0,305.4 L306.5,304.9 L307.0,304.5 L307.5,304.0 L308.0,303.6 L308.5,303.1 L309.0,302.7 L309.5,302.3 L310.0,301.9 L310.5,301.6 L311.0,301.2 L311.5,300.9 L312.0,300.6 L312.5,300.3 L313.0,300.0 L313.5,299.7 L314.0,299.4 L314.5,299.1 L315.0,298.8 L315.5,298.6 L316.0,298.3 L316.5,298.0 L317.0,297.8 L317.5,297.5 L318.0,297.3 L318.5,297.1 L319.0,296.9 L319.5,296.6 L320.0,296.4 L320.5,296.2 L321.0,296.0 L321.5,295.8 L322.0,295.6 L322.5,295.4 L323.0,295.2 L323.5,295.0 L324.0,294.9 L324.5,294.7 L325.0,294.5 L325.5,294.3 L326.0,294.1 L326.5,293.9 L327.0,293.8 L327.5,293.6 L328.0,293.4 L328.5,293.2 L329.0,293.0 L329.5,292.9 L330.0,292.7 L330.5,292.5 L331.0,292.4 L331.5,292.2 L332.0,292.1 L332.5,291.9 L333.0,291.7 L333.5,291.6 L334.0,291.5 L334.5,291.3 L335.0,291.2 L335.5,291.0 L336.0,290.9 L336.5,290.8 L337.0,290.7 L337.5,290.6 L338.0,290.5 L338.5,290.4 L339.0,290.3 L339.5,290.2 L340.0,290.1 L340.5,290.0 L341.0,290.0 L341.5,289.9 L342.0,289.8 L342.5,289.8 L343.0,289.7 L343.5,289.7 L344.0,289.6 L344.5,289.6 L345.0,289.5 L345.5,289.5 L346.0,289.4 L346.5,289.4 L347.0,289.3 L347.5,289.3 L348.0,289.2 L348.5,289.2 L349.0,289.1 L349.5,289.1 L350.0,289.1 L350.5,289.0 L351.0,289.0 L351.5,288.9 L352.0,288.9 L352.5,288.9 L353.0,288.8 L353.5,288.8 L354.0,288.8 L354.5,288.8 L355.0,288.7 L355.5,288.7 L356.0,288.7 L356.5,288.7 L357.0,288.6 L357.5,288.6 L358.0,288.6 L358.5,288.6 L359.0,288.5 L359.5,288.5 L360.0,288.5 L360.5,288.5 L361.0,288.5 L361.5,288.4 L362.0,288.4 L362.5,288.4 L363.0,288.4 L363.5,288.4 L364.0,288.4 L364.5,288.3 L365.0,288.3 L365.5,288.3 L366.0,288.3 L366.5,288.3 L367.0,288.3 L367.5,288.2 L368.0,288.2 L368.5,288.2 L369.0,288.2 L369.5,288.2 L370.0,288.2 L370.5,288.2 L371.0,288.1 L371.5,288.1 L372.0,288.1 L372.5,288.1 L373.0,288.1 L373.5,288.1 L374.0,288.1 L374.5,288.1 L375.0,288.1 L375.5,288.0 L376.0,288.0 L376.5,288.0 L377.0,288.0 L377.5,288.0 L378.0,288.0 L378.5,288.0 L379.0,288.0 L379.5,288.0 L380.0,288.0 L380.5,288.0 L381.0,288.0" fill="none" stroke="#5ec02c" stroke-width="1.8" stroke-linejoin="round"/>
<g fill="#5ec02c"><circle cx="238.5" cy="272.4" r="1.85"/><circle cx="240.4" cy="272.8" r="1.85"/><circle cx="243.1" cy="273.6" r="1.85"/><circle cx="245.8" cy="271.9" r="1.85"/><circle cx="247.8" cy="269.1" r="1.85"/><circle cx="250.1" cy="271.9" r="1.85"/><circle cx="253.2" cy="270.1" r="1.85"/><circle cx="255.6" cy="271.6" r="1.85"/><circle cx="257.6" cy="269.3" r="1.85"/><circle cx="260.6" cy="272.6" r="1.85"/><circle cx="261.8" cy="276.7" r="1.85"/><circle cx="265.5" cy="281.0" r="1.85"/><circle cx="265.8" cy="287.0" r="1.85"/><circle cx="268.6" cy="300.6" r="1.85"/><circle cx="271.1" cy="318.6" r="1.85"/><circle cx="272.5" cy="333.4" r="1.85"/><circle cx="275.1" cy="343.9" r="1.85"/><circle cx="276.5" cy="349.3" r="1.85"/><circle cx="277.5" cy="353.9" r="1.85"/><circle cx="280.1" cy="354.7" r="1.85"/><circle cx="282.9" cy="349.3" r="1.85"/><circle cx="285.0" cy="345.3" r="1.85"/><circle cx="287.2" cy="338.0" r="1.85"/><circle cx="288.0" cy="335.8" r="1.85"/><circle cx="289.9" cy="328.7" r="1.85"/><circle cx="291.9" cy="327.2" r="1.85"/><circle cx="294.4" cy="320.9" r="1.85"/><circle cx="296.8" cy="317.4" r="1.85"/><circle cx="298.7" cy="313.5" r="1.85"/><circle cx="301.5" cy="310.9" r="1.85"/><circle cx="303.5" cy="308.5" r="1.85"/><circle cx="306.1" cy="305.2" r="1.85"/><circle cx="308.9" cy="301.1" r="1.85"/><circle cx="311.4" cy="300.8" r="1.85"/><circle cx="313.8" cy="300.4" r="1.85"/><circle cx="315.8" cy="297.5" r="1.85"/><circle cx="318.9" cy="298.2" r="1.85"/><circle cx="320.9" cy="297.5" r="1.85"/><circle cx="322.7" cy="296.3" r="1.85"/><circle cx="325.7" cy="292.3" r="1.85"/><circle cx="328.2" cy="293.6" r="1.85"/><circle cx="330.4" cy="292.0" r="1.85"/><circle cx="332.8" cy="292.8" r="1.85"/><circle cx="335.5" cy="289.4" r="1.85"/><circle cx="337.7" cy="291.8" r="1.85"/><circle cx="340.2" cy="289.1" r="1.85"/><circle cx="342.1" cy="290.4" r="1.85"/><circle cx="344.7" cy="289.6" r="1.85"/><circle cx="346.8" cy="290.0" r="1.85"/><circle cx="349.7" cy="287.9" r="1.85"/><circle cx="352.1" cy="288.4" r="1.85"/><circle cx="353.9" cy="287.6" r="1.85"/><circle cx="357.1" cy="288.6" r="1.85"/><circle cx="359.2" cy="287.2" r="1.85"/><circle cx="361.8" cy="290.1" r="1.85"/><circle cx="363.8" cy="289.1" r="1.85"/><circle cx="366.0" cy="288.1" r="1.85"/><circle cx="368.5" cy="290.0" r="1.85"/><circle cx="371.4" cy="289.4" r="1.85"/><circle cx="373.5" cy="287.9" r="1.85"/><circle cx="376.0" cy="287.3" r="1.85"/><circle cx="378.5" cy="286.3" r="1.85"/><circle cx="380.9" cy="288.5" r="1.85"/></g>
<text x="356" y="301.7" font-size="10.2" fill="#5ec02c" text-anchor="start" font-family="'Liberation Sans', Arial, sans-serif" >170K</text>
<path d="M238.0,295.8 L238.5,295.8 L239.0,295.8 L239.5,295.8 L240.0,295.8 L240.5,295.9 L241.0,295.9 L241.5,295.9 L242.0,296.0 L242.5,296.0 L243.0,296.1 L243.5,296.1 L244.0,296.2 L244.5,296.3 L245.0,296.3 L245.5,296.4 L246.0,296.5 L246.5,296.6 L247.0,296.8 L247.5,297.0 L248.0,297.3 L248.5,297.7 L249.0,298.1 L249.5,298.5 L250.0,299.0 L250.5,299.5 L251.0,300.1 L251.5,300.9 L252.0,301.8 L252.5,303.0 L253.0,304.2 L253.5,305.6 L254.0,307.1 L254.5,308.7 L255.0,310.4 L255.5,312.1 L256.0,314.0 L256.5,316.2 L257.0,318.9 L257.5,322.1 L258.0,325.6 L258.5,329.3 L259.0,333.1 L259.5,337.0 L260.0,340.8 L260.5,344.3 L261.0,347.6 L261.5,350.6 L262.0,353.3 L262.5,356.0 L263.0,358.7 L263.5,361.2 L264.0,363.7 L264.5,366.2 L265.0,368.4 L265.5,370.6 L266.0,372.7 L266.5,374.5 L267.0,376.3 L267.5,378.1 L268.0,379.9 L268.5,381.7 L269.0,383.5 L269.5,385.1 L270.0,386.6 L270.5,387.9 L271.0,388.9 L271.5,389.6 L272.0,390.0 L272.5,389.9 L273.0,389.5 L273.5,388.7 L274.0,387.7 L274.5,386.4 L275.0,385.0 L275.5,383.5 L276.0,382.0 L276.5,380.5 L277.0,379.1 L277.5,377.9 L278.0,376.8 L278.5,375.9 L279.0,374.9 L279.5,374.0 L280.0,373.2 L280.5,372.3 L281.0,371.5 L281.5,370.6 L282.0,369.8 L282.5,369.0 L283.0,368.2 L283.5,367.5 L284.0,366.7 L284.5,365.9 L285.0,365.1 L285.5,364.4 L286.0,363.6 L286.5,362.8 L287.0,362.1 L287.5,361.3 L288.0,360.6 L288.5,359.8 L289.0,359.1 L289.5,358.4 L290.0,357.7 L290.5,356.9 L291.0,356.2 L291.5,355.5 L292.0,354.8 L292.5,354.0 L293.0,353.3 L293.5,352.6 L294.0,351.8 L294.5,351.0 L295.0,350.2 L295.5,349.4 L296.0,348.6 L296.5,347.8 L297.0,347.0 L297.5,346.2 L298.0,345.4 L298.5,344.6 L299.0,343.8 L299.5,343.1 L300.0,342.3 L300.5,341.6 L301.0,340.9 L301.5,340.2 L302.0,339.5 L302.5,338.8 L303.0,338.2 L303.5,337.7 L304.0,337.1 L304.5,336.5 L305.0,336.0 L305.5,335.4 L306.0,334.9 L306.5,334.3 L307.0,333.8 L307.5,333.3 L308.0,332.8 L308.5,332.3 L309.0,331.8 L309.5,331.3 L310.0,330.8 L310.5,330.4 L311.0,329.9 L311.5,329.5 L312.0,329.0 L312.5,328.6 L313.0,328.2 L313.5,327.8 L314.0,327.4 L314.5,327.0 L315.0,326.7 L315.5,326.3 L316.0,326.0 L316.5,325.7 L317.0,325.4 L317.5,325.0 L318.0,324.7 L318.5,324.4 L319.0,324.1 L319.5,323.9 L320.0,323.6 L320.5,323.3 L321.0,323.0 L321.5,322.8 L322.0,322.5 L322.5,322.3 L323.0,322.0 L323.5,321.8 L324.0,321.5 L324.5,321.3 L325.0,321.1 L325.5,320.8 L326.0,320.6 L326.5,320.4 L327.0,320.2 L327.5,320.0 L328.0,319.8 L328.5,319.6 L329.0,319.4 L329.5,319.2 L330.0,319.0 L330.5,318.8 L331.0,318.6 L331.5,318.4 L332.0,318.2 L332.5,318.0 L333.0,317.8 L333.5,317.7 L334.0,317.5 L334.5,317.3 L335.0,317.1 L335.5,317.0 L336.0,316.8 L336.5,316.7 L337.0,316.5 L337.5,316.3 L338.0,316.2 L338.5,316.1 L339.0,315.9 L339.5,315.8 L340.0,315.7 L340.5,315.6 L341.0,315.5 L341.5,315.4 L342.0,315.3 L342.5,315.2 L343.0,315.1 L343.5,315.0 L344.0,314.9 L344.5,314.9 L345.0,314.8 L345.5,314.7 L346.0,314.6 L346.5,314.5 L347.0,314.5 L347.5,314.4 L348.0,314.3 L348.5,314.3 L349.0,314.2 L349.5,314.1 L350.0,314.1 L350.5,314.0 L351.0,313.9 L351.5,313.9 L352.0,313.8 L352.5,313.8 L353.0,313.7 L353.5,313.7 L354.0,313.6 L354.5,313.5 L355.0,313.5 L355.5,313.4 L356.0,313.4 L356.5,313.3 L357.0,313.3 L357.5,313.2 L358.0,313.2 L358.5,313.1 L359.0,313.1 L359.5,313.0 L360.0,313.0 L360.5,313.0 L361.0,312.9 L361.5,312.9 L362.0,312.8 L362.5,312.8 L363.0,312.7 L363.5,312.7 L364.0,312.6 L364.5,312.6 L365.0,312.5 L365.5,312.5 L366.0,312.5 L366.5,312.4 L367.0,312.4 L367.5,312.3 L368.0,312.3 L368.5,312.2 L369.0,312.2 L369.5,312.2 L370.0,312.1 L370.5,312.1 L371.0,312.1 L371.5,312.0 L372.0,312.0 L372.5,311.9 L373.0,311.9 L373.5,311.9 L374.0,311.8 L374.5,311.8 L375.0,311.8 L375.5,311.7 L376.0,311.7 L376.5,311.7 L377.0,311.7 L377.5,311.6 L378.0,311.6 L378.5,311.6 L379.0,311.5 L379.5,311.5 L380.0,311.5" fill="none" stroke="#52c6d2" stroke-width="1.8" stroke-linejoin="round"/>
<g fill="#52c6d2"><circle cx="238.3" cy="296.1" r="1.85"/><circle cx="241.1" cy="295.4" r="1.85"/><circle cx="242.8" cy="297.5" r="1.85"/><circle cx="245.3" cy="296.3" r="1.85"/><circle cx="248.3" cy="299.0" r="1.85"/><circle cx="250.7" cy="299.2" r="1.85"/><circle cx="253.7" cy="303.8" r="1.85"/><circle cx="254.5" cy="310.8" r="1.85"/><circle cx="256.8" cy="316.3" r="1.85"/><circle cx="260.2" cy="328.6" r="1.85"/><circle cx="260.3" cy="344.2" r="1.85"/><circle cx="263.2" cy="355.3" r="1.85"/><circle cx="262.6" cy="364.5" r="1.85"/><circle cx="266.6" cy="372.6" r="1.85"/><circle cx="269.7" cy="380.5" r="1.85"/><circle cx="270.5" cy="387.9" r="1.85"/><circle cx="271.5" cy="391.0" r="1.85"/><circle cx="274.7" cy="388.1" r="1.85"/><circle cx="275.4" cy="382.0" r="1.85"/><circle cx="277.8" cy="377.6" r="1.85"/><circle cx="280.0" cy="371.5" r="1.85"/><circle cx="282.4" cy="367.2" r="1.85"/><circle cx="285.1" cy="364.7" r="1.85"/><circle cx="287.3" cy="360.5" r="1.85"/><circle cx="290.4" cy="358.3" r="1.85"/><circle cx="292.0" cy="354.0" r="1.85"/><circle cx="294.5" cy="348.3" r="1.85"/><circle cx="297.7" cy="346.0" r="1.85"/><circle cx="299.5" cy="340.5" r="1.85"/><circle cx="302.0" cy="336.2" r="1.85"/><circle cx="304.6" cy="339.0" r="1.85"/><circle cx="306.8" cy="333.1" r="1.85"/><circle cx="308.8" cy="331.9" r="1.85"/><circle cx="311.3" cy="329.7" r="1.85"/><circle cx="314.5" cy="326.6" r="1.85"/><circle cx="316.2" cy="325.5" r="1.85"/><circle cx="318.6" cy="325.5" r="1.85"/><circle cx="321.2" cy="325.1" r="1.85"/><circle cx="324.0" cy="321.0" r="1.85"/><circle cx="326.2" cy="322.8" r="1.85"/><circle cx="328.5" cy="318.2" r="1.85"/><circle cx="331.1" cy="320.3" r="1.85"/><circle cx="333.3" cy="318.3" r="1.85"/><circle cx="336.0" cy="316.4" r="1.85"/><circle cx="337.6" cy="315.5" r="1.85"/><circle cx="340.9" cy="316.4" r="1.85"/><circle cx="342.7" cy="316.0" r="1.85"/><circle cx="345.1" cy="314.5" r="1.85"/><circle cx="347.5" cy="311.4" r="1.85"/><circle cx="350.3" cy="313.6" r="1.85"/><circle cx="352.4" cy="315.1" r="1.85"/><circle cx="354.6" cy="313.9" r="1.85"/><circle cx="357.7" cy="313.9" r="1.85"/><circle cx="359.7" cy="313.5" r="1.85"/><circle cx="362.6" cy="315.2" r="1.85"/><circle cx="364.4" cy="313.0" r="1.85"/><circle cx="366.5" cy="312.9" r="1.85"/><circle cx="369.1" cy="312.9" r="1.85"/><circle cx="371.5" cy="312.4" r="1.85"/><circle cx="374.2" cy="313.2" r="1.85"/><circle cx="376.4" cy="310.5" r="1.85"/><circle cx="378.8" cy="310.5" r="1.85"/><circle cx="243.0" cy="291.0" r="1.85"/><circle cx="252.0" cy="296.0" r="1.85"/></g>
<text x="352.5" y="328.8" font-size="10.2" fill="#52c6d2" text-anchor="start" font-family="'Liberation Sans', Arial, sans-serif" >140K</text>
<path d="M238.0,321.0 L238.5,321.0 L239.0,321.0 L239.5,321.1 L240.0,321.1 L240.5,321.2 L241.0,321.2 L241.5,321.3 L242.0,321.4 L242.5,321.5 L243.0,321.6 L243.5,321.7 L244.0,321.8 L244.5,321.9 L245.0,322.1 L245.5,322.3 L246.0,322.6 L246.5,322.9 L247.0,323.3 L247.5,323.7 L248.0,324.1 L248.5,324.7 L249.0,325.4 L249.5,326.6 L250.0,328.3 L250.5,330.4 L251.0,332.8 L251.5,335.3 L252.0,337.8 L252.5,340.3 L253.0,343.0 L253.5,346.0 L254.0,349.2 L254.5,352.6 L255.0,356.1 L255.5,359.7 L256.0,363.3 L256.5,367.0 L257.0,370.6 L257.5,374.2 L258.0,377.7 L258.5,381.3 L259.0,385.0 L259.5,388.8 L260.0,392.5 L260.5,396.3 L261.0,400.0 L261.5,403.6 L262.0,407.2 L262.5,410.6 L263.0,413.8 L263.5,416.8 L264.0,419.9 L264.5,423.0 L265.0,425.7 L265.5,427.9 L266.0,429.6 L266.5,431.2 L267.0,432.5 L267.5,433.3 L268.0,433.5 L268.5,433.2 L269.0,432.6 L269.5,431.8 L270.0,431.0 L270.5,429.8 L271.0,427.9 L271.5,425.7 L272.0,423.4 L272.5,421.2 L273.0,419.3 L273.5,417.4 L274.0,415.6 L274.5,413.8 L275.0,412.0 L275.5,410.2 L276.0,408.5 L276.5,406.8 L277.0,405.1 L277.5,403.5 L278.0,402.0 L278.5,400.5 L279.0,399.1 L279.5,397.8 L280.0,396.6 L280.5,395.3 L281.0,394.2 L281.5,393.0 L282.0,391.9 L282.5,390.9 L283.0,389.8 L283.5,388.8 L284.0,387.8 L284.5,386.8 L285.0,385.8 L285.5,384.8 L286.0,383.8 L286.5,382.8 L287.0,381.8 L287.5,380.8 L288.0,379.8 L288.5,378.9 L289.0,377.9 L289.5,377.0 L290.0,376.0 L290.5,375.1 L291.0,374.2 L291.5,373.4 L292.0,372.6 L292.5,371.8 L293.0,371.0 L293.5,370.3 L294.0,369.5 L294.5,368.8 L295.0,368.1 L295.5,367.4 L296.0,366.8 L296.5,366.1 L297.0,365.5 L297.5,364.8 L298.0,364.2 L298.5,363.6 L299.0,363.1 L299.5,362.5 L300.0,362.0 L300.5,361.5 L301.0,361.0 L301.5,360.5 L302.0,360.1 L302.5,359.6 L303.0,359.2 L303.5,358.8 L304.0,358.4 L304.5,358.0 L305.0,357.6 L305.5,357.2 L306.0,356.8 L306.5,356.5 L307.0,356.1 L307.5,355.7 L308.0,355.4 L308.5,355.1 L309.0,354.7 L309.5,354.4 L310.0,354.1 L310.5,353.8 L311.0,353.5 L311.5,353.2 L312.0,352.9 L312.5,352.6 L313.0,352.4 L313.5,352.1 L314.0,351.8 L314.5,351.6 L315.0,351.3 L315.5,351.1 L316.0,350.8 L316.5,350.6 L317.0,350.3 L317.5,350.1 L318.0,349.9 L318.5,349.6 L319.0,349.4 L319.5,349.2 L320.0,348.9 L320.5,348.7 L321.0,348.5 L321.5,348.3 L322.0,348.1 L322.5,347.8 L323.0,347.6 L323.5,347.4 L324.0,347.1 L324.5,346.9 L325.0,346.7 L325.5,346.5 L326.0,346.3 L326.5,346.0 L327.0,345.8 L327.5,345.6 L328.0,345.5 L328.5,345.3 L329.0,345.1 L329.5,344.9 L330.0,344.8 L330.5,344.6 L331.0,344.5 L331.5,344.4 L332.0,344.3 L332.5,344.1 L333.0,344.0 L333.5,343.9 L334.0,343.8 L334.5,343.7 L335.0,343.6 L335.5,343.5 L336.0,343.4 L336.5,343.3 L337.0,343.2 L337.5,343.1 L338.0,343.0 L338.5,342.9 L339.0,342.8 L339.5,342.7 L340.0,342.7 L340.5,342.6 L341.0,342.5 L341.5,342.4 L342.0,342.4 L342.5,342.3 L343.0,342.2 L343.5,342.2 L344.0,342.1 L344.5,342.1 L345.0,342.0 L345.5,341.9 L346.0,341.9 L346.5,341.8 L347.0,341.8 L347.5,341.7 L348.0,341.7 L348.5,341.6 L349.0,341.6 L349.5,341.5 L350.0,341.5 L350.5,341.4 L351.0,341.4 L351.5,341.3 L352.0,341.3 L352.5,341.2 L353.0,341.2 L353.5,341.1 L354.0,341.1 L354.5,341.0 L355.0,341.0 L355.5,340.9 L356.0,340.9 L356.5,340.8 L357.0,340.8 L357.5,340.7 L358.0,340.7 L358.5,340.6 L359.0,340.6 L359.5,340.6 L360.0,340.5 L360.5,340.5 L361.0,340.4 L361.5,340.4 L362.0,340.4 L362.5,340.3 L363.0,340.3 L363.5,340.3 L364.0,340.2 L364.5,340.2 L365.0,340.2 L365.5,340.1 L366.0,340.1 L366.5,340.1 L367.0,340.0 L367.5,340.0 L368.0,340.0 L368.5,340.0 L369.0,340.0 L369.5,339.9 L370.0,339.9 L370.5,339.9 L371.0,339.9 L371.5,339.9 L372.0,339.9 L372.5,339.8 L373.0,339.8 L373.5,339.8 L374.0,339.8 L374.5,339.8 L375.0,339.8 L375.5,339.8 L376.0,339.8" fill="none" stroke="#1f32c6" stroke-width="1.8" stroke-linejoin="round"/>
<g fill="#1f32c6"><circle cx="238.3" cy="320.8" r="1.85"/><circle cx="240.5" cy="320.7" r="1.85"/><circle cx="242.9" cy="324.5" r="1.85"/><circle cx="245.7" cy="320.9" r="1.85"/><circle cx="247.8" cy="322.6" r="1.85"/><circle cx="250.4" cy="330.1" r="1.85"/><circle cx="252.9" cy="339.6" r="1.85"/><circle cx="255.6" cy="352.3" r="1.85"/><circle cx="255.8" cy="363.4" r="1.85"/><circle cx="259.2" cy="379.6" r="1.85"/><circle cx="260.2" cy="392.4" r="1.85"/><circle cx="261.9" cy="406.2" r="1.85"/><circle cx="263.8" cy="420.0" r="1.85"/><circle cx="266.3" cy="430.1" r="1.85"/><circle cx="267.3" cy="431.5" r="1.85"/><circle cx="270.3" cy="431.1" r="1.85"/><circle cx="272.2" cy="424.4" r="1.85"/><circle cx="274.8" cy="416.8" r="1.85"/><circle cx="275.3" cy="410.3" r="1.85"/><circle cx="276.7" cy="401.8" r="1.85"/><circle cx="279.7" cy="398.7" r="1.85"/><circle cx="281.6" cy="393.7" r="1.85"/><circle cx="284.9" cy="388.6" r="1.85"/><circle cx="285.6" cy="385.8" r="1.85"/><circle cx="287.3" cy="382.2" r="1.85"/><circle cx="289.1" cy="378.2" r="1.85"/><circle cx="292.0" cy="373.3" r="1.85"/><circle cx="294.2" cy="369.3" r="1.85"/><circle cx="296.2" cy="367.3" r="1.85"/><circle cx="298.9" cy="360.3" r="1.85"/><circle cx="301.6" cy="361.2" r="1.85"/><circle cx="304.3" cy="357.7" r="1.85"/><circle cx="306.0" cy="356.7" r="1.85"/><circle cx="309.2" cy="354.7" r="1.85"/><circle cx="310.6" cy="352.5" r="1.85"/><circle cx="313.5" cy="351.6" r="1.85"/><circle cx="315.7" cy="349.8" r="1.85"/><circle cx="318.5" cy="350.4" r="1.85"/><circle cx="320.2" cy="348.3" r="1.85"/><circle cx="322.9" cy="346.1" r="1.85"/><circle cx="325.2" cy="347.3" r="1.85"/><circle cx="328.2" cy="345.4" r="1.85"/><circle cx="330.0" cy="343.4" r="1.85"/><circle cx="333.2" cy="343.3" r="1.85"/><circle cx="334.8" cy="345.4" r="1.85"/><circle cx="337.2" cy="343.1" r="1.85"/><circle cx="340.4" cy="341.8" r="1.85"/><circle cx="342.3" cy="342.6" r="1.85"/><circle cx="344.6" cy="342.8" r="1.85"/><circle cx="347.3" cy="342.4" r="1.85"/><circle cx="349.4" cy="341.3" r="1.85"/><circle cx="351.6" cy="341.9" r="1.85"/><circle cx="353.9" cy="340.9" r="1.85"/><circle cx="356.3" cy="339.0" r="1.85"/><circle cx="359.5" cy="342.1" r="1.85"/><circle cx="361.7" cy="343.0" r="1.85"/><circle cx="363.7" cy="340.2" r="1.85"/><circle cx="366.0" cy="341.8" r="1.85"/><circle cx="368.2" cy="339.3" r="1.85"/><circle cx="371.3" cy="339.1" r="1.85"/><circle cx="373.3" cy="340.6" r="1.85"/><circle cx="375.6" cy="340.7" r="1.85"/><circle cx="242.0" cy="317.0" r="1.85"/><circle cx="270.0" cy="438.0" r="1.85"/></g>
<text x="347.8" y="354" font-size="10.2" fill="#1f32c6" text-anchor="start" font-family="'Liberation Sans', Arial, sans-serif" >110K</text>
<path d="M238.0,348.4 L238.5,348.4 L239.0,348.4 L239.5,348.5 L240.0,348.6 L240.5,348.6 L241.0,348.7 L241.5,348.9 L242.0,349.0 L242.5,349.2 L243.0,349.3 L243.5,349.5 L244.0,349.7 L244.5,350.0 L245.0,350.2 L245.5,350.6 L246.0,351.4 L246.5,352.4 L247.0,353.7 L247.5,355.3 L248.0,357.0 L248.5,359.0 L249.0,361.2 L249.5,363.4 L250.0,365.8 L250.5,368.3 L251.0,371.3 L251.5,375.2 L252.0,379.7 L252.5,384.6 L253.0,389.8 L253.5,395.0 L254.0,400.7 L254.5,407.1 L255.0,413.8 L255.5,420.5 L256.0,426.7 L256.5,432.1 L257.0,436.5 L257.5,440.5 L258.0,444.2 L258.5,447.6 L259.0,450.7 L259.5,453.6 L260.0,456.4 L260.5,459.1 L261.0,461.4 L261.5,463.3 L262.0,464.4 L262.5,465.3 L263.0,466.1 L263.5,466.6 L264.0,466.8 L264.5,466.7 L265.0,466.3 L265.5,465.8 L266.0,465.3 L266.5,464.5 L267.0,463.3 L267.5,461.6 L268.0,459.8 L268.5,457.8 L269.0,456.0 L269.5,454.2 L270.0,452.4 L270.5,450.5 L271.0,448.6 L271.5,446.6 L272.0,444.6 L272.5,442.6 L273.0,440.7 L273.5,438.7 L274.0,436.8 L274.5,435.0 L275.0,433.2 L275.5,431.3 L276.0,429.4 L276.5,427.6 L277.0,425.7 L277.5,423.9 L278.0,422.2 L278.5,420.5 L279.0,418.9 L279.5,417.4 L280.0,416.0 L280.5,414.7 L281.0,413.4 L281.5,412.2 L282.0,411.0 L282.5,409.9 L283.0,408.8 L283.5,407.7 L284.0,406.7 L284.5,405.7 L285.0,404.7 L285.5,403.7 L286.0,402.8 L286.5,401.9 L287.0,400.9 L287.5,400.1 L288.0,399.2 L288.5,398.3 L289.0,397.4 L289.5,396.6 L290.0,395.8 L290.5,394.9 L291.0,394.1 L291.5,393.3 L292.0,392.6 L292.5,391.8 L293.0,391.1 L293.5,390.4 L294.0,389.7 L294.5,389.1 L295.0,388.4 L295.5,387.8 L296.0,387.3 L296.5,386.7 L297.0,386.2 L297.5,385.6 L298.0,385.1 L298.5,384.6 L299.0,384.1 L299.5,383.6 L300.0,383.1 L300.5,382.7 L301.0,382.2 L301.5,381.8 L302.0,381.4 L302.5,381.0 L303.0,380.6 L303.5,380.2 L304.0,379.8 L304.5,379.5 L305.0,379.1 L305.5,378.8 L306.0,378.5 L306.5,378.2 L307.0,377.9 L307.5,377.7 L308.0,377.4 L308.5,377.1 L309.0,376.9 L309.5,376.6 L310.0,376.4 L310.5,376.2 L311.0,375.9 L311.5,375.7 L312.0,375.5 L312.5,375.3 L313.0,375.1 L313.5,374.9 L314.0,374.7 L314.5,374.5 L315.0,374.3 L315.5,374.1 L316.0,374.0 L316.5,373.8 L317.0,373.6 L317.5,373.4 L318.0,373.2 L318.5,373.1 L319.0,372.9 L319.5,372.7 L320.0,372.6 L320.5,372.4 L321.0,372.2 L321.5,372.1 L322.0,371.9 L322.5,371.8 L323.0,371.6 L323.5,371.5 L324.0,371.3 L324.5,371.2 L325.0,371.0 L325.5,370.9 L326.0,370.8 L326.5,370.6 L327.0,370.5 L327.5,370.4 L328.0,370.2 L328.5,370.1 L329.0,370.0 L329.5,369.8 L330.0,369.7 L330.5,369.5 L331.0,369.4 L331.5,369.3 L332.0,369.1 L332.5,369.0 L333.0,368.8 L333.5,368.7 L334.0,368.5 L334.5,368.4 L335.0,368.2 L335.5,368.0 L336.0,367.9 L336.5,367.7 L337.0,367.5 L337.5,367.3 L338.0,367.2 L338.5,367.0 L339.0,366.8 L339.5,366.7 L340.0,366.5 L340.5,366.3 L341.0,366.2 L341.5,366.0 L342.0,365.9 L342.5,365.7 L343.0,365.6 L343.5,365.5 L344.0,365.3 L344.5,365.2 L345.0,365.1 L345.5,365.0 L346.0,364.9 L346.5,364.8 L347.0,364.7 L347.5,364.7 L348.0,364.6 L348.5,364.6 L349.0,364.5 L349.5,364.5 L350.0,364.5 L350.5,364.5 L351.0,364.5 L351.5,364.5 L352.0,364.5 L352.5,364.5 L353.0,364.5 L353.5,364.5 L354.0,364.5 L354.5,364.5 L355.0,364.5 L355.5,364.5 L356.0,364.4 L356.5,364.4 L357.0,364.4 L357.5,364.4 L358.0,364.4 L358.5,364.4 L359.0,364.4 L359.5,364.4 L360.0,364.4 L360.5,364.4 L361.0,364.4 L361.5,364.4 L362.0,364.4 L362.5,364.4 L363.0,364.4 L363.5,364.4 L364.0,364.4 L364.5,364.4 L365.0,364.4 L365.5,364.4 L366.0,364.4 L366.5,364.4 L367.0,364.4 L367.5,364.4 L368.0,364.4 L368.5,364.4 L369.0,364.4" fill="none" stroke="#8244d2" stroke-width="1.8" stroke-linejoin="round"/>
<g fill="#8244d2"><circle cx="238.4" cy="348.4" r="1.85"/><circle cx="241.4" cy="350.7" r="1.85"/><circle cx="243.0" cy="351.4" r="1.85"/><circle cx="244.9" cy="351.8" r="1.85"/><circle cx="248.6" cy="355.4" r="1.85"/><circle cx="250.3" cy="363.0" r="1.85"/><circle cx="251.6" cy="375.6" r="1.85"/><circle cx="253.5" cy="394.1" r="1.85"/><circle cx="255.8" cy="415.1" r="1.85"/><circle cx="256.0" cy="438.1" r="1.85"/><circle cx="259.7" cy="449.3" r="1.85"/><circle cx="261.1" cy="462.3" r="1.85"/><circle cx="262.6" cy="465.9" r="1.85"/><circle cx="265.4" cy="467.0" r="1.85"/><circle cx="267.2" cy="460.6" r="1.85"/><circle cx="270.4" cy="453.5" r="1.85"/><circle cx="271.1" cy="447.6" r="1.85"/><circle cx="273.1" cy="438.0" r="1.85"/><circle cx="275.7" cy="433.2" r="1.85"/><circle cx="278.0" cy="426.7" r="1.85"/><circle cx="278.5" cy="417.5" r="1.85"/><circle cx="281.0" cy="415.1" r="1.85"/><circle cx="283.6" cy="410.6" r="1.85"/><circle cx="284.6" cy="405.3" r="1.85"/><circle cx="287.1" cy="401.9" r="1.85"/><circle cx="289.9" cy="397.4" r="1.85"/><circle cx="292.1" cy="394.5" r="1.85"/><circle cx="294.6" cy="389.5" r="1.85"/><circle cx="296.5" cy="385.0" r="1.85"/><circle cx="298.9" cy="382.8" r="1.85"/><circle cx="301.1" cy="383.3" r="1.85"/><circle cx="303.6" cy="379.9" r="1.85"/><circle cx="305.9" cy="377.5" r="1.85"/><circle cx="308.2" cy="376.1" r="1.85"/><circle cx="311.6" cy="375.6" r="1.85"/><circle cx="313.9" cy="375.8" r="1.85"/><circle cx="315.5" cy="373.9" r="1.85"/><circle cx="317.9" cy="371.4" r="1.85"/><circle cx="320.6" cy="372.3" r="1.85"/><circle cx="322.8" cy="370.3" r="1.85"/><circle cx="325.7" cy="371.7" r="1.85"/><circle cx="328.1" cy="371.2" r="1.85"/><circle cx="329.9" cy="368.3" r="1.85"/><circle cx="333.0" cy="368.5" r="1.85"/><circle cx="335.0" cy="369.5" r="1.85"/><circle cx="337.7" cy="367.6" r="1.85"/><circle cx="339.6" cy="367.3" r="1.85"/><circle cx="342.0" cy="366.9" r="1.85"/><circle cx="344.5" cy="364.2" r="1.85"/><circle cx="347.0" cy="366.0" r="1.85"/><circle cx="349.2" cy="364.4" r="1.85"/><circle cx="352.2" cy="362.6" r="1.85"/><circle cx="353.9" cy="361.7" r="1.85"/><circle cx="356.7" cy="365.3" r="1.85"/><circle cx="359.5" cy="362.5" r="1.85"/><circle cx="361.0" cy="364.3" r="1.85"/><circle cx="363.6" cy="364.9" r="1.85"/><circle cx="366.8" cy="362.2" r="1.85"/><circle cx="368.6" cy="363.1" r="1.85"/></g>
<text x="345.6" y="380" font-size="10.2" fill="#8244d2" text-anchor="start" font-family="'Liberation Sans', Arial, sans-serif" >78K</text>
</g>
<rect x="238.3" y="186.4" width="153.3" height="281.0" fill="none" stroke="#222" stroke-width="1.1"/>
<path d="M250.0,467.4 v-3.5 M273.6,467.4 v-2.2 M297.2,467.4 v-3.5 M320.8,467.4 v-2.2 M344.4,467.4 v-3.5 M368.0,467.4 v-2.2 M391.6,467.4 v-3.5 M238.3,221.5 h3 M238.3,284.5 h3 M238.3,347.5 h3 M238.3,410.5 h3" stroke="#222" stroke-width="1"/>
<text x="232.4" y="224.7" font-size="10.6" fill="#222" text-anchor="end" font-family="'Liberation Sans', Arial, sans-serif" >10</text>
<text x="232.4" y="287.7" font-size="10.6" fill="#222" text-anchor="end" font-family="'Liberation Sans', Arial, sans-serif" >5</text>
<text x="232.4" y="350.7" font-size="10.6" fill="#222" text-anchor="end" font-family="'Liberation Sans', Arial, sans-serif" >0</text>
<text x="232.4" y="413.7" font-size="10.6" fill="#222" text-anchor="end" font-family="'Liberation Sans', Arial, sans-serif" >-5</text>
<text x="250.0" y="484.2" font-size="10.6" fill="#222" text-anchor="middle" font-family="'Liberation Sans', Arial, sans-serif" >0.0</text>
<text x="297.2" y="484.2" font-size="10.6" fill="#222" text-anchor="middle" font-family="'Liberation Sans', Arial, sans-serif" >0.4</text>
<text x="344.4" y="484.2" font-size="10.6" fill="#222" text-anchor="middle" font-family="'Liberation Sans', Arial, sans-serif" >0.8</text>
<text x="391.6" y="484.2" font-size="10.6" fill="#222" text-anchor="middle" font-family="'Liberation Sans', Arial, sans-serif" >1.2</text>
<text x="314.7" y="502.6" font-size="11.1" fill="#151515" text-anchor="middle" font-family="'Liberation Sans', Arial, sans-serif" >Delay time (ps)</text>
<text x="0" y="0" font-size="10.8" fill="#222" text-anchor="middle" font-family="'Liberation Sans', Arial, sans-serif" transform="translate(220,328) rotate(-90)">ΔR/R (a.u.)</text>
</g>
<text x="219" y="188.9" font-size="16.3" fill="#111" text-anchor="start" font-family="'Liberation Serif', 'Times New Roman', serif" >(e)</text>
<g id="pf">
<defs><linearGradient id="gdet" x1="0" y1="0" x2="1" y2="0"><stop offset="0" stop-color="#fff"/><stop offset="0.4" stop-color="#dcdcdc"/><stop offset="1" stop-color="#a4a4a4"/></linearGradient></defs>
<rect x="20" y="329" width="183.4" height="139.6" fill="none" stroke="#333" stroke-width="1.5"/>
<text x="57" y="342.5" font-size="9" fill="#222" text-anchor="middle" font-family="'Liberation Sans', Arial, sans-serif" >K</text>
<text x="96.7" y="342.5" font-size="9" fill="#222" text-anchor="middle" font-family="'Liberation Sans', Arial, sans-serif" >Σ</text>
<text x="171.7" y="342.6" font-size="9" fill="#222" text-anchor="middle" font-family="'Liberation Sans', Arial, sans-serif" >K</text>
<text x="26" y="367.4" font-size="9.2" fill="#222" text-anchor="start" font-family="'Liberation Sans', Arial, sans-serif" textLength="13" lengthAdjust="spacingAndGlyphs">CB</text>
<text x="26.5" y="441" font-size="8.6" fill="#222" text-anchor="start" font-family="'Liberation Sans', Arial, sans-serif" textLength="11.7" lengthAdjust="spacingAndGlyphs">VB</text>
<text x="68" y="465" font-size="8.9" fill="#222" text-anchor="start" font-family="'Liberation Sans', Arial, sans-serif" >WSe<tspan dy="2.7" font-size="6.7">2</tspan></text>
<text x="161" y="465.3" font-size="8.5" fill="#222" text-anchor="start" font-family="'Liberation Sans', Arial, sans-serif" >MoTe<tspan dy="2.5" font-size="6.4">2</tspan></text>
<ellipse cx="77.7" cy="409.4" rx="22" ry="2.9" fill="#c4c4c4" transform="rotate(-47.5 77.7 409.4)"/>
<ellipse cx="53.5" cy="406.4" rx="2.4" ry="20.6" fill="#f2b82a"/>
<ellipse cx="60.7" cy="409" rx="2.2" ry="15" fill="#7c7c7c"/>
<text x="28.7" y="402.8" font-size="7.6" fill="#f0b830" text-anchor="start" font-family="'Liberation Sans', Arial, sans-serif" textLength="19.8" lengthAdjust="spacingAndGlyphs">Bright</text>
<text x="63.9" y="402.8" font-size="7.4" fill="#8a8a8a" text-anchor="start" font-family="'Liberation Sans', Arial, sans-serif" textLength="15.4" lengthAdjust="spacingAndGlyphs">Dark</text>
<path d="M78.8,350.3 C86,364 89,386.6 97,386.6 C105,386.6 107.5,371 111.1,359.1" fill="none" stroke="#46a82c" stroke-width="2.9" stroke-linecap="round"/>
<circle cx="97" cy="387.3" r="3.5" fill="#46a82c"/>
<path d="M44.4,362.5 L52.3,376.2 C54,378.5 55.5,378.8 57,378.4 C60,377.5 63,372.5 66,368.5 C70,362 74,354 77.5,348.5 C78.5,346.5 79.3,346 80,346 C80.8,346 81.6,347 82.5,349 C88,361 90,376.1 97,376.1 C103.5,376.1 106,364 108.7,355.5" fill="none" stroke="#1a2a9a" stroke-width="2.9" stroke-linecap="round" stroke-linejoin="round"/>
<text x="113.8" y="355.9" font-size="8.4" fill="#1a2aa0" font-weight="bold" text-anchor="start" font-family="'Liberation Sans', Arial, sans-serif" textLength="8.5" lengthAdjust="spacingAndGlyphs">1L</text>
<text x="113.5" y="367.3" font-size="8.4" fill="#3aa82a" font-weight="bold" text-anchor="start" font-family="'Liberation Sans', Arial, sans-serif" textLength="8.8" lengthAdjust="spacingAndGlyphs">2L</text>
<rect x="45.0" y="376.4" width="3.2" height="2.2" fill="#1a2a9a" transform="rotate(50 46.6 377.5)"/>
<rect x="49.0" y="381.2" width="3.2" height="2.2" fill="#1a2a9a" transform="rotate(50 50.6 382.3)"/>
<rect x="64.4" y="377.29999999999995" width="3.2" height="2.2" fill="#1a2a9a" transform="rotate(-50 66 378.4)"/>
<rect x="54.4" y="384.4" width="3.2" height="2.2" fill="#1a2a9a" transform="rotate(-30 56 385.5)"/>
<circle cx="52.8" cy="376.6" r="2.9" fill="#1a2a9a"/><circle cx="60.7" cy="384.5" r="3.6" fill="#1a2a9a"/>
<path d="M52.8,373.5 V369 M60.7,388 V391.5" fill="none" stroke="#111" stroke-width="1"/>
<path d="M50.6,370 L52.8,367.3 L55,370 Z M58.5,391 L60.7,393.8 L62.9,391 Z" fill="#111"/>
<path d="M40.4,449 L53.5,433 C55,431 56,430 56.6,430 C57.2,430 58.2,431 59.7,433 L72.7,449" fill="none" stroke="#111" stroke-width="2.8"/>
<path d="M56.6,436 V441.5 M56.6,429 V426.5" fill="none" stroke="#111" stroke-width="1"/>
<path d="M54.6,440.5 L56.6,443.3 L58.6,440.5 Z" fill="#111"/>
<circle cx="56.6" cy="432.8" r="2.9" fill="#fff" stroke="#111" stroke-width="1"/>
<defs><clipPath id="cpf1"><rect x="140" y="376" width="60" height="20"/></clipPath><clipPath id="cpf2"><rect x="150" y="415" width="50" height="23"/></clipPath></defs>
<path d="M150.4,371.6 C158,386 164,391.5 171,391.5 C178,391.5 184,384 189,369.6 Z" fill="#f5c8b2" clip-path="url(#cpf1)"/>
<path d="M150.4,371.6 C158,386 164,391.5 171,391.5 C178,391.5 184,384 189,369.6" fill="none" stroke="#e0301c" stroke-width="2.6"/>
<circle cx="176.4" cy="381" r="3.6" fill="#e0301c"/>
<path d="M154.4,443.5 C160,432 165,423 172,423 C179,423 186,433 192.5,444.5 Z" fill="#c8c8c8" clip-path="url(#cpf2)"/>
<path d="M154.4,443.5 C160,432 165,423 172,423 C179,423 186,433 192.5,444.5" fill="none" stroke="#111" stroke-width="2.7"/>
<circle cx="167.5" cy="434.7" r="3" fill="#fff" stroke="#111" stroke-width="1.1"/>
<path d="M96,403.5 L143.5,403.5 L143.5,402 L163,410 L143.5,417.5 L143.5,415.7 L96,415.7 Z" fill="url(#gdet)"/>
<text x="117.3" y="414" font-size="9.6" fill="#111" font-weight="bold" text-anchor="start" font-family="'Liberation Sans', Arial, sans-serif" textLength="17.4" lengthAdjust="spacingAndGlyphs">DET</text>
<text x="92.6" y="429.7" font-size="9.9" fill="#111" font-weight="bold" text-anchor="start" font-family="'Liberation Sans', Arial, sans-serif" textLength="66.8" lengthAdjust="spacingAndGlyphs">~ 100%, 200fs</text>
</g>
<text x="6" y="326.2" font-size="16.3" fill="#111" text-anchor="start" font-family="'Liberation Serif', 'Times New Roman', serif" >(f)</text>
<g id="ph">
<defs><filter id="sh" x="-20%" y="-5%" width="150%" height="115%"><feDropShadow dx="1.6" dy="0.8" stdDeviation="0.6" flood-color="#555" flood-opacity="0.75"/></filter></defs>
<text x="408.8" y="356.3" font-size="6.8" fill="#222" text-anchor="start" font-family="'Liberation Sans', Arial, sans-serif" >Energy</text>
<path d="M413,361 V505.5 H538" fill="none" stroke="#333" stroke-width="1"/>
<text x="539.8" y="507" font-size="7.4" fill="#222" text-anchor="start" font-family="'Liberation Sans', Arial, sans-serif" >Z</text>
<g filter="url(#sh)">
<rect x="413.7" y="364" width="12.7" height="38.8" fill="#15237a"/>
<rect x="429" y="364" width="12.7" height="37.6" fill="#15237a"/>
<rect x="459.8" y="364" width="12.8" height="34.4" fill="#15237a"/>
<rect x="475" y="364" width="12.8" height="33.5" fill="#15237a"/>
<rect x="506.1" y="364" width="12.5" height="29.1" fill="#15237a"/>
<rect x="521.6" y="364" width="12.4" height="27.7" fill="#15237a"/>
<rect x="413.5" y="478" width="12.5" height="27.0" fill="#15237a"/>
<rect x="429.2" y="476.7" width="12.5" height="28.3" fill="#15237a"/>
<rect x="459.9" y="472.6" width="12.5" height="32.4" fill="#15237a"/>
<rect x="475.1" y="471" width="12.5" height="34.0" fill="#15237a"/>
<rect x="506.3" y="468.1" width="11.6" height="36.9" fill="#15237a"/>
<rect x="521.5" y="466.9" width="11.9" height="38.1" fill="#15237a"/>
<path d="M444.6,364 H456.8 V421.5 Q456.8,425.6 452.8,425.6 H448.6 Q444.6,425.6 444.6,421.5 Z" fill="#a8281a"/>
<path d="M491.2,364 H503.1 V421.6 H491.2 Z" fill="#a8281a"/>
<path d="M444.4,448.5 H456.8 V505 H444.4 Z" fill="#a8281a"/>
<path d="M490.7,444.4 H502.8 V505 H490.7 Z" fill="#a8281a"/>
</g>
<path d="M447.8,417.8 h5.5 M493.5,412 h5.5" stroke="#f0d0c8" stroke-width="1.2"/>
<path d="M447.7,457.4 h5.4 M450.4,454.7 v5.4 M493.5,452 h5.4 M496.2,449.3 v5.4" stroke="#f0d8d0" stroke-width="1.2"/>
<text x="423.9" y="441" font-size="7" fill="#222" text-anchor="start" font-family="'Liberation Sans', Arial, sans-serif" >DX</text>
<text x="506.7" y="441" font-size="7" fill="#222" text-anchor="start" font-family="'Liberation Sans', Arial, sans-serif" >IX</text>
<ellipse cx="450.6" cy="437" rx="10.4" ry="32" fill="none" stroke="#2f5fe0" stroke-width="2.2"/>
<ellipse cx="474" cy="434" rx="46" ry="10.2" fill="none" stroke="#6cc03c" stroke-width="2.4" transform="rotate(36.4 474 434)"/>
</g>
<text x="392" y="369.9" font-size="16.3" fill="#111" text-anchor="start" font-family="'Liberation Serif', 'Times New Roman', serif" >(h)</text>
<g id="pg">
<defs><clipPath id="cg"><rect x="411.6" y="183.4" width="132.29999999999995" height="156.9"/></clipPath></defs>
<g clip-path="url(#cg)">
<rect x="411.6" y="183.4" width="132.29999999999995" height="156.9" fill="#919d9e"/>
<path d="M411,183 L545,183 L545,249 L525,242 L496,237 L465,240 L440,243 L411,246 Z" fill="#93a5c0"/>
<path d="M411,183 L494.4,183 L416.5,246.5 L411,251 Z" fill="#a9c2e2"/>
<path d="M411,219 L431,219 L422.7,235.8 L411,237 Z" fill="#7a3c4c"/>
<path d="M411,237 L422.7,235.8 L416,250 L412.9,258.3 L411,258.3 Z" fill="#2a44a0"/>
<path d="M431,219 L422.7,235.8 L412.9,258.3" fill="none" stroke="#1c2a80" stroke-width="1.1"/>
<path d="M545,270 L537,273 L525.8,287 L514.3,316 L525.8,341 L545,341 Z" fill="#a9b9cc"/>
<path d="M411,318.9 L434,316.3 L439,326.5 L454.5,334 L460,341 L411,341 Z" fill="#9aaabc"/>
<path d="M411,254 L432,250 L440,256 L433,261 L411,263 Z" fill="#f6f6ee"/>
<path d="M411.5,238.5 L440.3,244 L481,249.5 L489.5,250.8 L507,258 L532,316.3 L519,309 L499,300 L462.6,276.6 L440,259 L434.4,256.3 L425,250 L411.5,243 Z" fill="#e8da26" fill-opacity="0.75" stroke="#e8e020" stroke-width="1"/>
<path d="M443.3,236.8 L462.6,275.5 L453,273.4 L450.8,277.7 L446.5,283 L448.7,287.4 L464.8,311 L460.5,316.4 L432.5,283 L435.8,248.7 Z" fill="#c41f22" fill-opacity="0.82" stroke="#d42a20" stroke-width="0.8"/>
<path d="M442.6,231 L489.5,253 L496,270 L498.1,328.2 L489.5,328.2 L462.6,276.6 Z" fill="#2c2072" fill-opacity="0.7" stroke="#241a78" stroke-width="1"/>
<path d="M450.8,241.1 L489.5,257.3 L492,275 L487.4,285.2 L486,300 L481,292 L475,275 L462,255 Z" fill="none" stroke="#b02a70" stroke-width="0.8"/>
<path d="M459.4,254 L488.4,261.6 L494.9,274.5 L486.3,282 L460.5,259.4 Z" fill="none" stroke="#6ad030" stroke-width="1.1"/>
<circle cx="488" cy="311" r="4.6" fill="#5560b8"/><circle cx="487.6" cy="310.5" r="2.2" fill="#a0a8e0"/>
<circle cx="508.4" cy="300" r="3.2" fill="#e8f0a0"/><circle cx="508" cy="299.6" r="1.5" fill="#fff"/>
<ellipse cx="526" cy="286" rx="2.2" ry="3.2" fill="#2a4a9a"/>
<circle cx="429.3" cy="321.8" r="3.5" fill="#7a9a8a"/>
<circle cx="526" cy="189.5" r="1.5" fill="#1a1a1a"/>
<circle cx="498" cy="209" r="1.0" fill="#1a1a1a"/>
<circle cx="520" cy="208.5" r="1.3" fill="#1a1a1a"/>
<circle cx="539.2" cy="221" r="1.3" fill="#1a1a1a"/>
<circle cx="471.2" cy="322.8" r="2.2" fill="#1a1a1a"/>
<circle cx="474.5" cy="325" r="1.5" fill="#1a1a1a"/>
<circle cx="459.4" cy="300.3" r="1.0" fill="#1a1a1a"/>
<circle cx="446.5" cy="310" r="1.0" fill="#1a1a1a"/>
<circle cx="453" cy="315.3" r="1.1" fill="#1a1a1a"/>
<circle cx="477" cy="336" r="1.2" fill="#1a1a1a"/>
<circle cx="505" cy="334" r="1.0" fill="#1a1a1a"/>
<path d="M494.4,183.4 L416.5,246.5" fill="none" stroke="#1c2f78" stroke-width="1.3" stroke-dasharray="4,2.5"/>
<path d="M436,243 L465,240.4 L496,237.1 L525.5,242 L544,248" fill="none" stroke="#1c2f78" stroke-width="1.3" stroke-dasharray="4,2.5"/>
<path d="M544,270 L537,273 L525.8,287 L514.3,316 L525.8,340" fill="none" stroke="#1c2f78" stroke-width="1.3" stroke-dasharray="4,2.5"/>
<path d="M411.6,318.9 L434,316.3 L439,326.5 L454.5,334 L460,340" fill="none" stroke="#1c2f78" stroke-width="1.3" stroke-dasharray="4,2.5"/>
<path d="M413.8,301 L433,278" fill="none" stroke="#1c2f78" stroke-width="1.3" stroke-dasharray="4,2.5"/>
<path d="M458,183.6 L544,183.6" fill="none" stroke="#1c2f78" stroke-width="1.2" stroke-dasharray="4,2.5"/>
<rect x="501" y="194.5" width="23" height="2.3" fill="#111"/>
<path d="M522,201 L520.5,214 L519.2,228" stroke="#cfd088" stroke-width="1.6" opacity="0.8" fill="none"/>
<rect x="460.8" y="214.5" width="44.7" height="8.7" fill="#3a6aa2"/>
<text x="483.1" y="221.7" font-size="7.3" fill="#fff" text-anchor="middle" font-family="'Liberation Sans', Arial, sans-serif" >Bottom hBN</text>
<rect x="492.7" y="243.8" width="31.8" height="8.6" fill="#1a2e60"/>
<text x="508.6" y="251" font-size="7.3" fill="#fff" text-anchor="middle" font-family="'Liberation Sans', Arial, sans-serif" >Top hBN</text>
<rect x="411.6" y="183.4" width="46.4" height="36" fill="#fff"/>
<rect x="414.5" y="185.9" width="7.3" height="5.3" rx="1" fill="#7a44d8"/>
<rect x="414.5" y="195.6" width="7.3" height="5.3" rx="1" fill="#48a838"/>
<rect x="414.5" y="203.3" width="7.3" height="5.3" rx="1" fill="#e6e632"/>
<rect x="414.5" y="211.2" width="7.3" height="5.3" rx="1" fill="#9c2424"/>
<text x="424.3" y="191.5" font-size="6.6" fill="#222" text-anchor="start" font-family="'Liberation Sans', Arial, sans-serif" >Graphene</text>
<text x="424.3" y="200.2" font-size="6.6" fill="#222" text-anchor="start" font-family="'Liberation Sans', Arial, sans-serif" >MoS<tspan dy="2.0" font-size="4.9">2</tspan></text>
<text x="424.3" y="208.3" font-size="6.6" fill="#222" text-anchor="start" font-family="'Liberation Sans', Arial, sans-serif" >hBN</text>
<text x="424.3" y="216.1" font-size="6.6" fill="#222" text-anchor="start" font-family="'Liberation Sans', Arial, sans-serif" >MoS<tspan dy="2.0" font-size="4.9">2</tspan></text>
</g>
<rect x="411.6" y="183.4" width="132.29999999999995" height="156.9" fill="none" stroke="#3a3050" stroke-width="0.8"/>
</g>
<text x="391.2" y="185.6" font-size="16.3" fill="#111" text-anchor="start" font-family="'Liberation Serif', 'Times New Roman', serif" >(g)</text>
</svg></body></html>
